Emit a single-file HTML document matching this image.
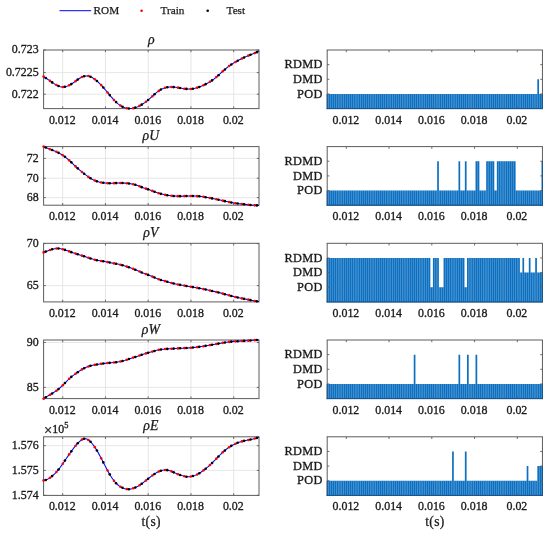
<!DOCTYPE html>
<html lang="en"><head><meta charset="utf-8"><title>ROM comparison</title>
<style>
html,body{margin:0;padding:0;background:#fff}
body{width:550px;height:534px;overflow:hidden}
svg{display:block;font-family:"Liberation Serif",serif;fill:#1a1a1a}
.tk{font-size:11.9px;stroke:#1a1a1a;stroke-width:0.32px}
.yl{font-size:12.3px;letter-spacing:0.3px}
.lg{font-size:11.2px;stroke:#1a1a1a;stroke-width:0.25px}
.tt{font-size:13.8px;font-style:italic;letter-spacing:0px;stroke:#1a1a1a;stroke-width:0.25px}
.xl{font-size:13.6px;letter-spacing:0.3px;stroke:#1a1a1a;stroke-width:0.25px}
</style></head><body>
<svg width="550" height="534" viewBox="0 0 550 534">
<rect width="550" height="534" fill="#fff"/>
<line x1="59.5" y1="10.7" x2="91.2" y2="10.7" stroke="#0000ff" stroke-width="1"/>
<text class="lg" x="93.6" y="14.3">ROM</text>
<circle cx="141.6" cy="10.8" r="1.3" fill="#ff0000"/>
<text class="lg" x="160.5" y="14.3">Train</text>
<circle cx="207.7" cy="10.8" r="1.3" fill="#000"/>
<text class="lg" x="226.6" y="14.3">Test</text>
<g>
<path d="M62.70 50.00V108.60M105.45 50.00V108.60M148.20 50.00V108.60M190.95 50.00V108.60M233.70 50.00V108.60M43.60 72.60H259.00M43.60 94.20H259.00" stroke="#e0e0e0" stroke-width="0.8" fill="none"/>
<rect x="43.60" y="50.00" width="215.40" height="58.60" fill="none" stroke="#5c5c5c" stroke-width="1"/>
<path d="M62.70 108.60v-2.2M62.70 50.00v2.2M105.45 108.60v-2.2M105.45 50.00v2.2M148.20 108.60v-2.2M148.20 50.00v2.2M190.95 108.60v-2.2M190.95 50.00v2.2M233.70 108.60v-2.2M233.70 50.00v2.2M43.60 50.00h2.2M259.00 50.00h-2.2M43.60 72.60h2.2M259.00 72.60h-2.2M43.60 94.20h2.2M259.00 94.20h-2.2" stroke="#5c5c5c" stroke-width="0.9" fill="none"/>
<path d="M43.60 76.60 L44.60 77.20 L45.60 77.85 L46.61 78.52 L47.61 79.21 L48.61 79.92 L49.61 80.64 L50.61 81.35 L51.61 82.05 L52.62 82.74 L53.62 83.41 L54.62 84.04 L55.62 84.63 L56.62 85.17 L57.63 85.66 L58.63 86.08 L59.63 86.44 L60.63 86.71 L61.63 86.90 L62.64 86.99 L63.64 86.98 L64.64 86.87 L65.64 86.67 L66.64 86.38 L67.64 86.01 L68.65 85.57 L69.65 85.07 L70.65 84.51 L71.65 83.89 L72.65 83.24 L73.66 82.54 L74.66 81.82 L75.66 81.09 L76.66 80.36 L77.66 79.65 L78.67 78.96 L79.67 78.31 L80.67 77.71 L81.67 77.18 L82.67 76.73 L83.67 76.37 L84.68 76.11 L85.68 75.95 L86.68 75.90 L87.68 75.96 L88.68 76.13 L89.69 76.41 L90.69 76.79 L91.69 77.26 L92.69 77.82 L93.69 78.46 L94.69 79.17 L95.70 79.95 L96.70 80.78 L97.70 81.67 L98.70 82.61 L99.70 83.59 L100.71 84.62 L101.71 85.69 L102.71 86.79 L103.71 87.92 L104.71 89.08 L105.72 90.26 L106.72 91.46 L107.72 92.67 L108.72 93.89 L109.72 95.09 L110.72 96.29 L111.73 97.46 L112.73 98.60 L113.73 99.70 L114.73 100.75 L115.73 101.75 L116.74 102.68 L117.74 103.54 L118.74 104.33 L119.74 105.06 L120.74 105.72 L121.75 106.31 L122.75 106.84 L123.75 107.30 L124.75 107.69 L125.75 108.01 L126.75 108.26 L127.76 108.44 L128.76 108.56 L129.76 108.60 L130.76 108.57 L131.76 108.48 L132.77 108.32 L133.77 108.11 L134.77 107.83 L135.77 107.50 L136.77 107.13 L137.77 106.70 L138.78 106.23 L139.78 105.73 L140.78 105.18 L141.78 104.59 L142.78 103.96 L143.79 103.30 L144.79 102.60 L145.79 101.86 L146.79 101.09 L147.79 100.29 L148.80 99.45 L149.80 98.58 L150.80 97.68 L151.80 96.76 L152.80 95.84 L153.80 94.92 L154.81 94.02 L155.81 93.16 L156.81 92.34 L157.81 91.58 L158.81 90.87 L159.82 90.21 L160.82 89.62 L161.82 89.09 L162.82 88.62 L163.82 88.22 L164.83 87.88 L165.83 87.60 L166.83 87.38 L167.83 87.21 L168.83 87.08 L169.83 87.01 L170.84 86.98 L171.84 86.99 L172.84 87.03 L173.84 87.11 L174.84 87.21 L175.85 87.33 L176.85 87.48 L177.85 87.64 L178.85 87.80 L179.85 87.97 L180.85 88.15 L181.86 88.32 L182.86 88.48 L183.86 88.63 L184.86 88.76 L185.86 88.87 L186.87 88.95 L187.87 89.01 L188.87 89.03 L189.87 89.01 L190.87 88.94 L191.88 88.84 L192.88 88.69 L193.88 88.51 L194.88 88.29 L195.88 88.03 L196.88 87.75 L197.89 87.44 L198.89 87.10 L199.89 86.73 L200.89 86.34 L201.89 85.93 L202.90 85.49 L203.90 85.03 L204.90 84.55 L205.90 84.05 L206.90 83.53 L207.91 82.98 L208.91 82.41 L209.91 81.81 L210.91 81.18 L211.91 80.52 L212.91 79.81 L213.92 79.06 L214.92 78.27 L215.92 77.45 L216.92 76.59 L217.92 75.70 L218.93 74.80 L219.93 73.89 L220.93 72.97 L221.93 72.06 L222.93 71.16 L223.93 70.27 L224.94 69.40 L225.94 68.55 L226.94 67.73 L227.94 66.93 L228.94 66.17 L229.95 65.44 L230.95 64.75 L231.95 64.09 L232.95 63.46 L233.95 62.86 L234.96 62.28 L235.96 61.71 L236.96 61.16 L237.96 60.62 L238.96 60.08 L239.96 59.55 L240.97 59.03 L241.97 58.51 L242.97 58.01 L243.97 57.53 L244.97 57.06 L245.98 56.61 L246.98 56.18 L247.98 55.77 L248.98 55.37 L249.98 54.98 L250.99 54.59 L251.99 54.20 L252.99 53.81 L253.99 53.40 L254.99 52.98 L255.99 52.54 L257.00 52.08 L258.00 51.58 L259.00 51.05" stroke="#0000ff" stroke-width="1.05" fill="none" stroke-linejoin="round"/>
<g fill="#ff0000"><circle cx="43.60" cy="76.60" r="1.3"/><circle cx="50.00" cy="80.91" r="1.3"/><circle cx="56.40" cy="85.05" r="1.3"/><circle cx="62.79" cy="87.00" r="1.3"/><circle cx="69.19" cy="85.31" r="1.3"/><circle cx="75.59" cy="81.14" r="1.3"/><circle cx="81.99" cy="77.03" r="1.3"/><circle cx="88.39" cy="76.07" r="1.3"/><circle cx="94.78" cy="79.24" r="1.3"/><circle cx="101.18" cy="85.12" r="1.3"/><circle cx="107.58" cy="92.50" r="1.3"/><circle cx="113.98" cy="99.96" r="1.3"/><circle cx="120.38" cy="105.49" r="1.3"/><circle cx="126.77" cy="108.26" r="1.3"/><circle cx="133.17" cy="108.24" r="1.3"/><circle cx="139.57" cy="105.83" r="1.3"/><circle cx="145.97" cy="101.73" r="1.3"/><circle cx="152.37" cy="96.24" r="1.3"/><circle cx="158.76" cy="90.90" r="1.3"/><circle cx="165.16" cy="87.78" r="1.3"/><circle cx="171.56" cy="86.98" r="1.3"/><circle cx="177.96" cy="87.65" r="1.3"/><circle cx="184.36" cy="88.69" r="1.3"/><circle cx="190.75" cy="88.95" r="1.3"/><circle cx="197.15" cy="87.67" r="1.3"/><circle cx="203.55" cy="85.19" r="1.3"/><circle cx="209.95" cy="81.79" r="1.3"/><circle cx="216.35" cy="77.08" r="1.3"/><circle cx="222.74" cy="71.33" r="1.3"/><circle cx="229.14" cy="66.02" r="1.3"/><circle cx="235.54" cy="61.95" r="1.3"/><circle cx="241.94" cy="58.53" r="1.3"/><circle cx="248.34" cy="55.63" r="1.3"/><circle cx="254.73" cy="53.09" r="1.3"/></g><g fill="#000"><circle cx="45.73" cy="77.93" r="1.3"/><circle cx="52.13" cy="82.41" r="1.3"/><circle cx="58.53" cy="86.04" r="1.3"/><circle cx="64.93" cy="86.82" r="1.3"/><circle cx="71.32" cy="84.10" r="1.3"/><circle cx="77.72" cy="79.60" r="1.3"/><circle cx="84.12" cy="76.24" r="1.3"/><circle cx="90.52" cy="76.72" r="1.3"/><circle cx="96.92" cy="80.97" r="1.3"/><circle cx="103.31" cy="87.47" r="1.3"/><circle cx="109.71" cy="95.08" r="1.3"/><circle cx="116.11" cy="102.10" r="1.3"/><circle cx="122.51" cy="106.72" r="1.3"/><circle cx="128.91" cy="108.57" r="1.3"/><circle cx="135.30" cy="107.66" r="1.3"/><circle cx="141.70" cy="104.64" r="1.3"/><circle cx="148.10" cy="100.03" r="1.3"/><circle cx="154.50" cy="94.30" r="1.3"/><circle cx="160.90" cy="89.57" r="1.3"/><circle cx="167.30" cy="87.29" r="1.3"/><circle cx="173.69" cy="87.09" r="1.3"/><circle cx="180.09" cy="88.02" r="1.3"/><circle cx="186.49" cy="88.92" r="1.3"/><circle cx="192.89" cy="88.69" r="1.3"/><circle cx="199.29" cy="86.96" r="1.3"/><circle cx="205.68" cy="84.16" r="1.3"/><circle cx="212.08" cy="80.40" r="1.3"/><circle cx="218.48" cy="75.21" r="1.3"/><circle cx="224.88" cy="69.45" r="1.3"/><circle cx="231.28" cy="64.53" r="1.3"/><circle cx="237.67" cy="60.78" r="1.3"/><circle cx="244.07" cy="57.48" r="1.3"/><circle cx="250.47" cy="54.79" r="1.3"/><circle cx="256.87" cy="52.14" r="1.3"/></g>
<text class="tk" text-anchor="middle" x="62.30" y="123.50">0.012</text>
<text class="tk" text-anchor="middle" x="105.05" y="123.50">0.014</text>
<text class="tk" text-anchor="middle" x="147.80" y="123.50">0.016</text>
<text class="tk" text-anchor="middle" x="190.55" y="123.50">0.018</text>
<text class="tk" text-anchor="middle" x="233.30" y="123.50">0.02</text>
<text class="tk" text-anchor="end" x="38.6" y="53.30">0.723</text>
<text class="tk" text-anchor="end" x="38.6" y="75.90">0.7225</text>
<text class="tk" text-anchor="end" x="38.6" y="97.50">0.722</text>
<text class="tt" text-anchor="middle" x="151.2" y="43.50">ρ</text>
</g>
<g>
<path d="M326.70 50.00H542.95M326.70 108.60H542.95" fill="none" stroke="#5c5c5c" stroke-width="1"/>
<path d="M327.95 109.00V93.95H328.58V109.00ZM330.08 109.00V93.95H330.71V109.00ZM332.21 109.00V93.95H332.84V109.00ZM334.35 109.00V93.95H334.97V109.00ZM336.48 109.00V93.95H337.10V109.00ZM338.61 109.00V93.95H339.23V109.00ZM340.74 109.00V93.95H341.37V109.00ZM342.87 109.00V93.95H343.50V109.00ZM345.00 109.00V93.95H345.63V109.00ZM347.13 109.00V93.95H347.76V109.00ZM349.26 109.00V93.95H349.89V109.00ZM351.40 109.00V93.95H352.02V109.00ZM353.53 109.00V93.95H354.15V109.00ZM355.66 109.00V93.95H356.28V109.00ZM357.79 109.00V93.95H358.42V109.00ZM359.92 109.00V93.95H360.55V109.00ZM362.05 109.00V93.95H362.68V109.00ZM364.18 109.00V93.95H364.81V109.00ZM366.31 109.00V93.95H366.94V109.00ZM368.45 109.00V93.95H369.07V109.00ZM370.58 109.00V93.95H371.20V109.00ZM372.71 109.00V93.95H373.33V109.00ZM374.84 109.00V93.95H375.46V109.00ZM376.97 109.00V93.95H377.60V109.00ZM379.10 109.00V93.95H379.73V109.00ZM381.23 109.00V93.95H381.86V109.00ZM383.36 109.00V93.95H383.99V109.00ZM385.49 109.00V93.95H386.12V109.00ZM387.63 109.00V93.95H388.25V109.00ZM389.76 109.00V93.95H390.38V109.00ZM391.89 109.00V93.95H392.51V109.00ZM394.02 109.00V93.95H394.65V109.00ZM396.15 109.00V93.95H396.78V109.00ZM398.28 109.00V93.95H398.91V109.00ZM400.41 109.00V93.95H401.04V109.00ZM402.54 109.00V93.95H403.17V109.00ZM404.68 109.00V93.95H405.30V109.00ZM406.81 109.00V93.95H407.43V109.00ZM408.94 109.00V93.95H409.56V109.00ZM411.07 109.00V93.95H411.70V109.00ZM413.20 109.00V93.95H413.83V109.00ZM415.33 109.00V93.95H415.96V109.00ZM417.46 109.00V93.95H418.09V109.00ZM419.59 109.00V93.95H420.22V109.00ZM421.72 109.00V93.95H422.35V109.00ZM423.86 109.00V93.95H424.48V109.00ZM425.99 109.00V93.95H426.61V109.00ZM428.12 109.00V93.95H428.74V109.00ZM430.25 109.00V93.95H430.88V109.00ZM432.38 109.00V93.95H433.01V109.00ZM434.51 109.00V93.95H435.14V109.00ZM436.64 109.00V93.95H437.27V109.00ZM438.77 109.00V93.95H439.40V109.00ZM440.91 109.00V93.95H441.53V109.00ZM443.04 109.00V93.95H443.66V109.00ZM445.17 109.00V93.95H445.79V109.00ZM447.30 109.00V93.95H447.93V109.00ZM449.43 109.00V93.95H450.06V109.00ZM451.56 109.00V93.95H452.19V109.00ZM453.69 109.00V93.95H454.32V109.00ZM455.82 109.00V93.95H456.45V109.00ZM457.95 109.00V93.95H458.58V109.00ZM460.09 109.00V93.95H460.71V109.00ZM462.22 109.00V93.95H462.84V109.00ZM464.35 109.00V93.95H464.97V109.00ZM466.48 109.00V93.95H467.11V109.00ZM468.61 109.00V93.95H469.24V109.00ZM470.74 109.00V93.95H471.37V109.00ZM472.87 109.00V93.95H473.50V109.00ZM475.00 109.00V93.95H475.63V109.00ZM477.14 109.00V93.95H477.76V109.00ZM479.27 109.00V93.95H479.89V109.00ZM481.40 109.00V93.95H482.02V109.00ZM483.53 109.00V93.95H484.16V109.00ZM485.66 109.00V93.95H486.29V109.00ZM487.79 109.00V93.95H488.42V109.00ZM489.92 109.00V93.95H490.55V109.00ZM492.05 109.00V93.95H492.68V109.00ZM494.19 109.00V93.95H494.81V109.00ZM496.32 109.00V93.95H496.94V109.00ZM498.45 109.00V93.95H499.07V109.00ZM500.58 109.00V93.95H501.20V109.00ZM502.71 109.00V93.95H503.34V109.00ZM504.84 109.00V93.95H505.47V109.00ZM506.97 109.00V93.95H507.60V109.00ZM509.10 109.00V93.95H509.73V109.00ZM511.23 109.00V93.95H511.86V109.00ZM513.37 109.00V93.95H513.99V109.00ZM515.50 109.00V93.95H516.12V109.00ZM517.63 109.00V93.95H518.25V109.00ZM519.76 109.00V93.95H520.39V109.00ZM521.89 109.00V93.95H522.52V109.00ZM524.02 109.00V93.95H524.65V109.00ZM526.15 109.00V93.95H526.78V109.00ZM528.28 109.00V93.95H528.91V109.00ZM530.42 109.00V93.95H531.04V109.00ZM532.55 109.00V93.95H533.17V109.00ZM534.68 109.00V93.95H535.30V109.00ZM536.81 109.00V93.95H537.44V109.00ZM538.94 109.00V93.95H539.57V109.00ZM541.07 109.00V93.95H541.70V109.00Z" fill="#3087cf"/>
<path d="M327.20 109.00V93.95H328.05V109.00ZM328.48 109.00V93.95H330.18V109.00ZM330.61 109.00V93.95H332.31V109.00ZM332.74 109.00V93.95H334.45V109.00ZM334.87 109.00V93.95H336.58V109.00ZM337.00 109.00V93.95H338.71V109.00ZM339.13 109.00V93.95H340.84V109.00ZM341.27 109.00V93.95H342.97V109.00ZM343.40 109.00V93.95H345.10V109.00ZM345.53 109.00V93.95H347.23V109.00ZM347.66 109.00V93.95H349.36V109.00ZM349.79 109.00V93.95H351.50V109.00ZM351.92 109.00V93.95H353.63V109.00ZM354.05 109.00V93.95H355.76V109.00ZM356.18 109.00V93.95H357.89V109.00ZM358.32 109.00V93.95H360.02V109.00ZM360.45 109.00V93.95H362.15V109.00ZM362.58 109.00V93.95H364.28V109.00ZM364.71 109.00V93.95H366.41V109.00ZM366.84 109.00V93.95H368.55V109.00ZM368.97 109.00V93.95H370.68V109.00ZM371.10 109.00V93.95H372.81V109.00ZM373.23 109.00V93.95H374.94V109.00ZM375.36 109.00V93.95H377.07V109.00ZM377.50 109.00V93.95H379.20V109.00ZM379.63 109.00V93.95H381.33V109.00ZM381.76 109.00V93.95H383.46V109.00ZM383.89 109.00V93.95H385.59V109.00ZM386.02 109.00V93.95H387.73V109.00ZM388.15 109.00V93.95H389.86V109.00ZM390.28 109.00V93.95H391.99V109.00ZM392.41 109.00V93.95H394.12V109.00ZM394.55 109.00V93.95H396.25V109.00ZM396.68 109.00V93.95H398.38V109.00ZM398.81 109.00V93.95H400.51V109.00ZM400.94 109.00V93.95H402.64V109.00ZM403.07 109.00V93.95H404.78V109.00ZM405.20 109.00V93.95H406.91V109.00ZM407.33 109.00V93.95H409.04V109.00ZM409.46 109.00V93.95H411.17V109.00ZM411.60 109.00V93.95H413.30V109.00ZM413.73 109.00V93.95H415.43V109.00ZM415.86 109.00V93.95H417.56V109.00ZM417.99 109.00V93.95H419.69V109.00ZM420.12 109.00V93.95H421.82V109.00ZM422.25 109.00V93.95H423.96V109.00ZM424.38 109.00V93.95H426.09V109.00ZM426.51 109.00V93.95H428.22V109.00ZM428.64 109.00V93.95H430.35V109.00ZM430.78 109.00V93.95H432.48V109.00ZM432.91 109.00V93.95H434.61V109.00ZM435.04 109.00V93.95H436.74V109.00ZM437.17 109.00V93.95H438.87V109.00ZM439.30 109.00V93.95H441.01V109.00ZM441.43 109.00V93.95H443.14V109.00ZM443.56 109.00V93.95H445.27V109.00ZM445.69 109.00V93.95H447.40V109.00ZM447.83 109.00V93.95H449.53V109.00ZM449.96 109.00V93.95H451.66V109.00ZM452.09 109.00V93.95H453.79V109.00ZM454.22 109.00V93.95H455.92V109.00ZM456.35 109.00V93.95H458.05V109.00ZM458.48 109.00V93.95H460.19V109.00ZM460.61 109.00V93.95H462.32V109.00ZM462.74 109.00V93.95H464.45V109.00ZM464.87 109.00V93.95H466.58V109.00ZM467.01 109.00V93.95H468.71V109.00ZM469.14 109.00V93.95H470.84V109.00ZM471.27 109.00V93.95H472.97V109.00ZM473.40 109.00V93.95H475.10V109.00ZM475.53 109.00V93.95H477.24V109.00ZM477.66 109.00V93.95H479.37V109.00ZM479.79 109.00V93.95H481.50V109.00ZM481.92 109.00V93.95H483.63V109.00ZM484.06 109.00V93.95H485.76V109.00ZM486.19 109.00V93.95H487.89V109.00ZM488.32 109.00V93.95H490.02V109.00ZM490.45 109.00V93.95H492.15V109.00ZM492.58 109.00V93.95H494.29V109.00ZM494.71 109.00V93.95H496.42V109.00ZM496.84 109.00V93.95H498.55V109.00ZM498.97 109.00V93.95H500.68V109.00ZM501.10 109.00V93.95H502.81V109.00ZM503.24 109.00V93.95H504.94V109.00ZM505.37 109.00V93.95H507.07V109.00ZM507.50 109.00V93.95H509.20V109.00ZM509.63 109.00V93.95H511.33V109.00ZM511.76 109.00V93.95H513.47V109.00ZM513.89 109.00V93.95H515.60V109.00ZM516.02 109.00V93.95H517.73V109.00ZM518.15 109.00V93.95H519.86V109.00ZM520.29 109.00V93.95H521.99V109.00ZM522.42 109.00V93.95H524.12V109.00ZM524.55 109.00V93.95H526.25V109.00ZM526.68 109.00V93.95H528.38V109.00ZM528.81 109.00V93.95H530.52V109.00ZM530.94 109.00V93.95H532.65V109.00ZM533.07 109.00V93.95H534.78V109.00ZM535.20 109.00V93.95H536.91V109.00ZM537.34 109.00V79.30H539.04V109.00ZM539.47 109.00V93.95H541.17V109.00ZM541.60 109.00V93.95H542.45V109.00Z" fill="#0c6fc0"/>
<path d="M327.20 50.00V108.60M542.45 50.00V108.60" stroke="#5c5c5c" stroke-width="1" fill="none"/>
<path d="M327.20 93.95V109.10M542.45 93.95V109.10M326.70 108.60H542.95" stroke="#17548f" stroke-width="1" fill="none"/>
<path d="M346.30 108.60v-2.2M346.30 50.00v2.2M389.05 108.60v-2.2M389.05 50.00v2.2M431.80 108.60v-2.2M431.80 50.00v2.2M474.55 108.60v-2.2M474.55 50.00v2.2M517.30 108.60v-2.2M517.30 50.00v2.2M327.20 93.95h2.2M542.45 93.95h-2.2M327.20 79.30h2.2M542.45 79.30h-2.2M327.20 64.65h2.2M542.45 64.65h-2.2" stroke="#5c5c5c" stroke-width="0.9" fill="none"/>
<text class="tk" text-anchor="middle" x="345.90" y="123.50">0.012</text>
<text class="tk" text-anchor="middle" x="388.65" y="123.50">0.014</text>
<text class="tk" text-anchor="middle" x="431.40" y="123.50">0.016</text>
<text class="tk" text-anchor="middle" x="474.15" y="123.50">0.018</text>
<text class="tk" text-anchor="middle" x="516.90" y="123.50">0.02</text>
<text class="tk yl" text-anchor="end" x="322.6" y="97.65">POD</text>
<text class="tk yl" text-anchor="end" x="322.6" y="83.00">DMD</text>
<text class="tk yl" text-anchor="end" x="322.6" y="68.35">RDMD</text>
</g>
<g>
<path d="M62.70 146.60V205.20M105.45 146.60V205.20M148.20 146.60V205.20M190.95 146.60V205.20M233.70 146.60V205.20M43.60 158.40H259.00M43.60 178.20H259.00M43.60 197.60H259.00" stroke="#e0e0e0" stroke-width="0.8" fill="none"/>
<rect x="43.60" y="146.60" width="215.40" height="58.60" fill="none" stroke="#5c5c5c" stroke-width="1"/>
<path d="M62.70 205.20v-2.2M62.70 146.60v2.2M105.45 205.20v-2.2M105.45 146.60v2.2M148.20 205.20v-2.2M148.20 146.60v2.2M190.95 205.20v-2.2M190.95 146.60v2.2M233.70 205.20v-2.2M233.70 146.60v2.2M43.60 158.40h2.2M259.00 158.40h-2.2M43.60 178.20h2.2M259.00 178.20h-2.2M43.60 197.60h2.2M259.00 197.60h-2.2" stroke="#5c5c5c" stroke-width="0.9" fill="none"/>
<path d="M43.60 146.60 L44.60 147.05 L45.60 147.48 L46.61 147.90 L47.61 148.30 L48.61 148.69 L49.61 149.08 L50.61 149.47 L51.61 149.85 L52.62 150.24 L53.62 150.64 L54.62 151.05 L55.62 151.47 L56.62 151.92 L57.63 152.38 L58.63 152.88 L59.63 153.40 L60.63 153.95 L61.63 154.54 L62.64 155.17 L63.64 155.84 L64.64 156.56 L65.64 157.32 L66.64 158.12 L67.64 158.98 L68.65 159.86 L69.65 160.78 L70.65 161.72 L71.65 162.67 L72.65 163.62 L73.66 164.58 L74.66 165.53 L75.66 166.47 L76.66 167.39 L77.66 168.30 L78.67 169.19 L79.67 170.05 L80.67 170.89 L81.67 171.72 L82.67 172.54 L83.67 173.34 L84.68 174.14 L85.68 174.92 L86.68 175.68 L87.68 176.42 L88.68 177.13 L89.69 177.80 L90.69 178.42 L91.69 179.00 L92.69 179.54 L93.69 180.03 L94.69 180.48 L95.70 180.88 L96.70 181.25 L97.70 181.58 L98.70 181.87 L99.70 182.13 L100.71 182.35 L101.71 182.55 L102.71 182.72 L103.71 182.86 L104.71 182.97 L105.72 183.07 L106.72 183.14 L107.72 183.19 L108.72 183.22 L109.72 183.23 L110.72 183.23 L111.73 183.22 L112.73 183.20 L113.73 183.17 L114.73 183.14 L115.73 183.10 L116.74 183.07 L117.74 183.04 L118.74 183.02 L119.74 183.00 L120.74 183.00 L121.75 183.01 L122.75 183.03 L123.75 183.07 L124.75 183.13 L125.75 183.19 L126.75 183.28 L127.76 183.37 L128.76 183.49 L129.76 183.62 L130.76 183.77 L131.76 183.95 L132.77 184.15 L133.77 184.38 L134.77 184.64 L135.77 184.93 L136.77 185.25 L137.77 185.60 L138.78 185.98 L139.78 186.37 L140.78 186.76 L141.78 187.16 L142.78 187.55 L143.79 187.92 L144.79 188.28 L145.79 188.61 L146.79 188.94 L147.79 189.26 L148.80 189.59 L149.80 189.93 L150.80 190.29 L151.80 190.66 L152.80 191.05 L153.80 191.44 L154.81 191.83 L155.81 192.21 L156.81 192.58 L157.81 192.94 L158.81 193.26 L159.82 193.57 L160.82 193.85 L161.82 194.11 L162.82 194.35 L163.82 194.57 L164.83 194.78 L165.83 194.97 L166.83 195.15 L167.83 195.31 L168.83 195.46 L169.83 195.59 L170.84 195.71 L171.84 195.82 L172.84 195.91 L173.84 195.99 L174.84 196.05 L175.85 196.10 L176.85 196.13 L177.85 196.15 L178.85 196.16 L179.85 196.17 L180.85 196.16 L181.86 196.15 L182.86 196.14 L183.86 196.12 L184.86 196.09 L185.86 196.07 L186.87 196.05 L187.87 196.03 L188.87 196.01 L189.87 196.00 L190.87 195.99 L191.88 196.00 L192.88 196.00 L193.88 196.02 L194.88 196.05 L195.88 196.09 L196.88 196.14 L197.89 196.20 L198.89 196.27 L199.89 196.36 L200.89 196.47 L201.89 196.59 L202.90 196.72 L203.90 196.88 L204.90 197.04 L205.90 197.22 L206.90 197.40 L207.91 197.59 L208.91 197.79 L209.91 197.98 L210.91 198.18 L211.91 198.37 L212.91 198.57 L213.92 198.77 L214.92 198.96 L215.92 199.17 L216.92 199.37 L217.92 199.58 L218.93 199.80 L219.93 200.02 L220.93 200.24 L221.93 200.47 L222.93 200.70 L223.93 200.93 L224.94 201.16 L225.94 201.39 L226.94 201.61 L227.94 201.83 L228.94 202.05 L229.95 202.26 L230.95 202.46 L231.95 202.65 L232.95 202.83 L233.95 202.99 L234.96 203.14 L235.96 203.28 L236.96 203.41 L237.96 203.53 L238.96 203.65 L239.96 203.76 L240.97 203.88 L241.97 204.00 L242.97 204.12 L243.97 204.25 L244.97 204.38 L245.98 204.51 L246.98 204.64 L247.98 204.77 L248.98 204.89 L249.98 205.00 L250.99 205.10 L251.99 205.19 L252.99 205.26 L253.99 205.32 L254.99 205.37 L255.99 205.39 L257.00 205.38 L258.00 205.36 L259.00 205.31" stroke="#0000ff" stroke-width="1.05" fill="none" stroke-linejoin="round"/>
<g fill="#ff0000"><circle cx="43.60" cy="146.60" r="1.3"/><circle cx="50.00" cy="149.23" r="1.3"/><circle cx="56.40" cy="151.82" r="1.3"/><circle cx="62.79" cy="155.28" r="1.3"/><circle cx="69.19" cy="160.36" r="1.3"/><circle cx="75.59" cy="166.40" r="1.3"/><circle cx="81.99" cy="171.98" r="1.3"/><circle cx="88.39" cy="176.92" r="1.3"/><circle cx="94.78" cy="180.52" r="1.3"/><circle cx="101.18" cy="182.45" r="1.3"/><circle cx="107.58" cy="183.18" r="1.3"/><circle cx="113.98" cy="183.16" r="1.3"/><circle cx="120.38" cy="183.00" r="1.3"/><circle cx="126.77" cy="183.28" r="1.3"/><circle cx="133.17" cy="184.24" r="1.3"/><circle cx="139.57" cy="186.29" r="1.3"/><circle cx="145.97" cy="188.67" r="1.3"/><circle cx="152.37" cy="190.88" r="1.3"/><circle cx="158.76" cy="193.25" r="1.3"/><circle cx="165.16" cy="194.84" r="1.3"/><circle cx="171.56" cy="195.79" r="1.3"/><circle cx="177.96" cy="196.15" r="1.3"/><circle cx="184.36" cy="196.11" r="1.3"/><circle cx="190.75" cy="196.00" r="1.3"/><circle cx="197.15" cy="196.15" r="1.3"/><circle cx="203.55" cy="196.82" r="1.3"/><circle cx="209.95" cy="197.99" r="1.3"/><circle cx="216.35" cy="199.25" r="1.3"/><circle cx="222.74" cy="200.66" r="1.3"/><circle cx="229.14" cy="202.09" r="1.3"/><circle cx="235.54" cy="203.23" r="1.3"/><circle cx="241.94" cy="203.99" r="1.3"/><circle cx="248.34" cy="204.81" r="1.3"/><circle cx="254.73" cy="205.36" r="1.3"/></g><g fill="#000"><circle cx="45.73" cy="147.54" r="1.3"/><circle cx="52.13" cy="150.05" r="1.3"/><circle cx="58.53" cy="152.83" r="1.3"/><circle cx="64.93" cy="156.77" r="1.3"/><circle cx="71.32" cy="162.36" r="1.3"/><circle cx="77.72" cy="168.35" r="1.3"/><circle cx="84.12" cy="173.70" r="1.3"/><circle cx="90.52" cy="178.32" r="1.3"/><circle cx="96.92" cy="181.33" r="1.3"/><circle cx="103.31" cy="182.80" r="1.3"/><circle cx="109.71" cy="183.23" r="1.3"/><circle cx="116.11" cy="183.09" r="1.3"/><circle cx="122.51" cy="183.03" r="1.3"/><circle cx="128.91" cy="183.51" r="1.3"/><circle cx="135.30" cy="184.79" r="1.3"/><circle cx="141.70" cy="187.13" r="1.3"/><circle cx="148.10" cy="189.36" r="1.3"/><circle cx="154.50" cy="191.71" r="1.3"/><circle cx="160.90" cy="193.87" r="1.3"/><circle cx="167.30" cy="195.22" r="1.3"/><circle cx="173.69" cy="195.98" r="1.3"/><circle cx="180.09" cy="196.17" r="1.3"/><circle cx="186.49" cy="196.06" r="1.3"/><circle cx="192.89" cy="196.00" r="1.3"/><circle cx="199.29" cy="196.31" r="1.3"/><circle cx="205.68" cy="197.18" r="1.3"/><circle cx="212.08" cy="198.41" r="1.3"/><circle cx="218.48" cy="199.70" r="1.3"/><circle cx="224.88" cy="201.14" r="1.3"/><circle cx="231.28" cy="202.52" r="1.3"/><circle cx="237.67" cy="203.50" r="1.3"/><circle cx="244.07" cy="204.26" r="1.3"/><circle cx="250.47" cy="205.05" r="1.3"/><circle cx="256.87" cy="205.39" r="1.3"/></g>
<text class="tk" text-anchor="middle" x="62.30" y="220.10">0.012</text>
<text class="tk" text-anchor="middle" x="105.05" y="220.10">0.014</text>
<text class="tk" text-anchor="middle" x="147.80" y="220.10">0.016</text>
<text class="tk" text-anchor="middle" x="190.55" y="220.10">0.018</text>
<text class="tk" text-anchor="middle" x="233.30" y="220.10">0.02</text>
<text class="tk" text-anchor="end" x="38.6" y="161.70">72</text>
<text class="tk" text-anchor="end" x="38.6" y="181.50">70</text>
<text class="tk" text-anchor="end" x="38.6" y="200.90">68</text>
<text class="tt" text-anchor="middle" x="150.9" y="140.10">ρU</text>
</g>
<g>
<path d="M326.70 146.60H542.95M326.70 205.20H542.95" fill="none" stroke="#5c5c5c" stroke-width="1"/>
<path d="M327.95 205.60V190.55H328.58V205.60ZM330.08 205.60V190.55H330.71V205.60ZM332.21 205.60V190.55H332.84V205.60ZM334.35 205.60V190.55H334.97V205.60ZM336.48 205.60V190.55H337.10V205.60ZM338.61 205.60V190.55H339.23V205.60ZM340.74 205.60V190.55H341.37V205.60ZM342.87 205.60V190.55H343.50V205.60ZM345.00 205.60V190.55H345.63V205.60ZM347.13 205.60V190.55H347.76V205.60ZM349.26 205.60V190.55H349.89V205.60ZM351.40 205.60V190.55H352.02V205.60ZM353.53 205.60V190.55H354.15V205.60ZM355.66 205.60V190.55H356.28V205.60ZM357.79 205.60V190.55H358.42V205.60ZM359.92 205.60V190.55H360.55V205.60ZM362.05 205.60V190.55H362.68V205.60ZM364.18 205.60V190.55H364.81V205.60ZM366.31 205.60V190.55H366.94V205.60ZM368.45 205.60V190.55H369.07V205.60ZM370.58 205.60V190.55H371.20V205.60ZM372.71 205.60V190.55H373.33V205.60ZM374.84 205.60V190.55H375.46V205.60ZM376.97 205.60V190.55H377.60V205.60ZM379.10 205.60V190.55H379.73V205.60ZM381.23 205.60V190.55H381.86V205.60ZM383.36 205.60V190.55H383.99V205.60ZM385.49 205.60V190.55H386.12V205.60ZM387.63 205.60V190.55H388.25V205.60ZM389.76 205.60V190.55H390.38V205.60ZM391.89 205.60V190.55H392.51V205.60ZM394.02 205.60V190.55H394.65V205.60ZM396.15 205.60V190.55H396.78V205.60ZM398.28 205.60V190.55H398.91V205.60ZM400.41 205.60V190.55H401.04V205.60ZM402.54 205.60V190.55H403.17V205.60ZM404.68 205.60V190.55H405.30V205.60ZM406.81 205.60V190.55H407.43V205.60ZM408.94 205.60V190.55H409.56V205.60ZM411.07 205.60V190.55H411.70V205.60ZM413.20 205.60V190.55H413.83V205.60ZM415.33 205.60V190.55H415.96V205.60ZM417.46 205.60V190.55H418.09V205.60ZM419.59 205.60V190.55H420.22V205.60ZM421.72 205.60V190.55H422.35V205.60ZM423.86 205.60V190.55H424.48V205.60ZM425.99 205.60V190.55H426.61V205.60ZM428.12 205.60V190.55H428.74V205.60ZM430.25 205.60V190.55H430.88V205.60ZM432.38 205.60V190.55H433.01V205.60ZM434.51 205.60V190.55H435.14V205.60ZM436.64 205.60V190.55H437.27V205.60ZM438.77 205.60V190.55H439.40V205.60ZM440.91 205.60V190.55H441.53V205.60ZM443.04 205.60V190.55H443.66V205.60ZM445.17 205.60V190.55H445.79V205.60ZM447.30 205.60V190.55H447.93V205.60ZM449.43 205.60V190.55H450.06V205.60ZM451.56 205.60V190.55H452.19V205.60ZM453.69 205.60V190.55H454.32V205.60ZM455.82 205.60V190.55H456.45V205.60ZM457.95 205.60V190.55H458.58V205.60ZM460.09 205.60V190.55H460.71V205.60ZM462.22 205.60V190.55H462.84V205.60ZM464.35 205.60V190.55H464.97V205.60ZM466.48 205.60V190.55H467.11V205.60ZM468.61 205.60V190.55H469.24V205.60ZM470.74 205.60V190.55H471.37V205.60ZM472.87 205.60V190.55H473.50V205.60ZM475.00 205.60V190.55H475.63V205.60ZM477.14 205.60V161.25H477.76V205.60ZM479.27 205.60V190.55H479.89V205.60ZM481.40 205.60V190.55H482.02V205.60ZM483.53 205.60V190.55H484.16V205.60ZM485.66 205.60V190.55H486.29V205.60ZM487.79 205.60V161.25H488.42V205.60ZM489.92 205.60V161.25H490.55V205.60ZM492.05 205.60V161.25H492.68V205.60ZM494.19 205.60V190.55H494.81V205.60ZM496.32 205.60V190.55H496.94V205.60ZM498.45 205.60V161.25H499.07V205.60ZM500.58 205.60V161.25H501.20V205.60ZM502.71 205.60V161.25H503.34V205.60ZM504.84 205.60V161.25H505.47V205.60ZM506.97 205.60V161.25H507.60V205.60ZM509.10 205.60V161.25H509.73V205.60ZM511.23 205.60V161.25H511.86V205.60ZM513.37 205.60V161.25H513.99V205.60ZM515.50 205.60V190.55H516.12V205.60ZM517.63 205.60V190.55H518.25V205.60ZM519.76 205.60V190.55H520.39V205.60ZM521.89 205.60V190.55H522.52V205.60ZM524.02 205.60V190.55H524.65V205.60ZM526.15 205.60V190.55H526.78V205.60ZM528.28 205.60V190.55H528.91V205.60ZM530.42 205.60V190.55H531.04V205.60ZM532.55 205.60V190.55H533.17V205.60ZM534.68 205.60V190.55H535.30V205.60ZM536.81 205.60V190.55H537.44V205.60ZM538.94 205.60V190.55H539.57V205.60ZM541.07 205.60V190.55H541.70V205.60Z" fill="#3087cf"/>
<path d="M327.20 205.60V190.55H328.05V205.60ZM328.48 205.60V190.55H330.18V205.60ZM330.61 205.60V190.55H332.31V205.60ZM332.74 205.60V190.55H334.45V205.60ZM334.87 205.60V190.55H336.58V205.60ZM337.00 205.60V190.55H338.71V205.60ZM339.13 205.60V190.55H340.84V205.60ZM341.27 205.60V190.55H342.97V205.60ZM343.40 205.60V190.55H345.10V205.60ZM345.53 205.60V190.55H347.23V205.60ZM347.66 205.60V190.55H349.36V205.60ZM349.79 205.60V190.55H351.50V205.60ZM351.92 205.60V190.55H353.63V205.60ZM354.05 205.60V190.55H355.76V205.60ZM356.18 205.60V190.55H357.89V205.60ZM358.32 205.60V190.55H360.02V205.60ZM360.45 205.60V190.55H362.15V205.60ZM362.58 205.60V190.55H364.28V205.60ZM364.71 205.60V190.55H366.41V205.60ZM366.84 205.60V190.55H368.55V205.60ZM368.97 205.60V190.55H370.68V205.60ZM371.10 205.60V190.55H372.81V205.60ZM373.23 205.60V190.55H374.94V205.60ZM375.36 205.60V190.55H377.07V205.60ZM377.50 205.60V190.55H379.20V205.60ZM379.63 205.60V190.55H381.33V205.60ZM381.76 205.60V190.55H383.46V205.60ZM383.89 205.60V190.55H385.59V205.60ZM386.02 205.60V190.55H387.73V205.60ZM388.15 205.60V190.55H389.86V205.60ZM390.28 205.60V190.55H391.99V205.60ZM392.41 205.60V190.55H394.12V205.60ZM394.55 205.60V190.55H396.25V205.60ZM396.68 205.60V190.55H398.38V205.60ZM398.81 205.60V190.55H400.51V205.60ZM400.94 205.60V190.55H402.64V205.60ZM403.07 205.60V190.55H404.78V205.60ZM405.20 205.60V190.55H406.91V205.60ZM407.33 205.60V190.55H409.04V205.60ZM409.46 205.60V190.55H411.17V205.60ZM411.60 205.60V190.55H413.30V205.60ZM413.73 205.60V190.55H415.43V205.60ZM415.86 205.60V190.55H417.56V205.60ZM417.99 205.60V190.55H419.69V205.60ZM420.12 205.60V190.55H421.82V205.60ZM422.25 205.60V190.55H423.96V205.60ZM424.38 205.60V190.55H426.09V205.60ZM426.51 205.60V190.55H428.22V205.60ZM428.64 205.60V190.55H430.35V205.60ZM430.78 205.60V190.55H432.48V205.60ZM432.91 205.60V190.55H434.61V205.60ZM435.04 205.60V190.55H436.74V205.60ZM437.17 205.60V161.25H438.87V205.60ZM439.30 205.60V190.55H441.01V205.60ZM441.43 205.60V190.55H443.14V205.60ZM443.56 205.60V190.55H445.27V205.60ZM445.69 205.60V190.55H447.40V205.60ZM447.83 205.60V190.55H449.53V205.60ZM449.96 205.60V190.55H451.66V205.60ZM452.09 205.60V190.55H453.79V205.60ZM454.22 205.60V190.55H455.92V205.60ZM456.35 205.60V190.55H458.05V205.60ZM458.48 205.60V161.25H460.19V205.60ZM460.61 205.60V190.55H462.32V205.60ZM462.74 205.60V190.55H464.45V205.60ZM464.87 205.60V161.25H466.58V205.60ZM467.01 205.60V190.55H468.71V205.60ZM469.14 205.60V190.55H470.84V205.60ZM471.27 205.60V190.55H472.97V205.60ZM473.40 205.60V190.55H475.10V205.60ZM475.53 205.60V161.25H477.24V205.60ZM477.66 205.60V161.25H479.37V205.60ZM479.79 205.60V190.55H481.50V205.60ZM481.92 205.60V190.55H483.63V205.60ZM484.06 205.60V190.55H485.76V205.60ZM486.19 205.60V161.25H487.89V205.60ZM488.32 205.60V161.25H490.02V205.60ZM490.45 205.60V161.25H492.15V205.60ZM492.58 205.60V161.25H494.29V205.60ZM494.71 205.60V190.55H496.42V205.60ZM496.84 205.60V161.25H498.55V205.60ZM498.97 205.60V161.25H500.68V205.60ZM501.10 205.60V161.25H502.81V205.60ZM503.24 205.60V161.25H504.94V205.60ZM505.37 205.60V161.25H507.07V205.60ZM507.50 205.60V161.25H509.20V205.60ZM509.63 205.60V161.25H511.33V205.60ZM511.76 205.60V161.25H513.47V205.60ZM513.89 205.60V161.25H515.60V205.60ZM516.02 205.60V190.55H517.73V205.60ZM518.15 205.60V190.55H519.86V205.60ZM520.29 205.60V190.55H521.99V205.60ZM522.42 205.60V190.55H524.12V205.60ZM524.55 205.60V190.55H526.25V205.60ZM526.68 205.60V190.55H528.38V205.60ZM528.81 205.60V190.55H530.52V205.60ZM530.94 205.60V190.55H532.65V205.60ZM533.07 205.60V190.55H534.78V205.60ZM535.20 205.60V190.55H536.91V205.60ZM537.34 205.60V190.55H539.04V205.60ZM539.47 205.60V190.55H541.17V205.60ZM541.60 205.60V161.25H542.45V205.60Z" fill="#0c6fc0"/>
<path d="M327.20 146.60V205.20M542.45 146.60V205.20" stroke="#5c5c5c" stroke-width="1" fill="none"/>
<path d="M327.20 190.55V205.70M542.45 161.25V205.70M326.70 205.20H542.95" stroke="#17548f" stroke-width="1" fill="none"/>
<path d="M346.30 205.20v-2.2M346.30 146.60v2.2M389.05 205.20v-2.2M389.05 146.60v2.2M431.80 205.20v-2.2M431.80 146.60v2.2M474.55 205.20v-2.2M474.55 146.60v2.2M517.30 205.20v-2.2M517.30 146.60v2.2M327.20 190.55h2.2M542.45 190.55h-2.2M327.20 175.90h2.2M542.45 175.90h-2.2M327.20 161.25h2.2M542.45 161.25h-2.2" stroke="#5c5c5c" stroke-width="0.9" fill="none"/>
<text class="tk" text-anchor="middle" x="345.90" y="220.10">0.012</text>
<text class="tk" text-anchor="middle" x="388.65" y="220.10">0.014</text>
<text class="tk" text-anchor="middle" x="431.40" y="220.10">0.016</text>
<text class="tk" text-anchor="middle" x="474.15" y="220.10">0.018</text>
<text class="tk" text-anchor="middle" x="516.90" y="220.10">0.02</text>
<text class="tk yl" text-anchor="end" x="322.6" y="194.25">POD</text>
<text class="tk yl" text-anchor="end" x="322.6" y="179.60">DMD</text>
<text class="tk yl" text-anchor="end" x="322.6" y="164.95">RDMD</text>
</g>
<g>
<path d="M62.70 243.30V301.90M105.45 243.30V301.90M148.20 243.30V301.90M190.95 243.30V301.90M233.70 243.30V301.90M43.60 285.60H259.00" stroke="#e0e0e0" stroke-width="0.8" fill="none"/>
<rect x="43.60" y="243.30" width="215.40" height="58.60" fill="none" stroke="#5c5c5c" stroke-width="1"/>
<path d="M62.70 301.90v-2.2M62.70 243.30v2.2M105.45 301.90v-2.2M105.45 243.30v2.2M148.20 301.90v-2.2M148.20 243.30v2.2M190.95 301.90v-2.2M190.95 243.30v2.2M233.70 301.90v-2.2M233.70 243.30v2.2M43.60 243.60h2.2M259.00 243.60h-2.2M43.60 285.60h2.2M259.00 285.60h-2.2" stroke="#5c5c5c" stroke-width="0.9" fill="none"/>
<path d="M43.60 252.40 L44.60 252.04 L45.60 251.67 L46.61 251.28 L47.61 250.90 L48.61 250.51 L49.61 250.14 L50.61 249.79 L51.61 249.46 L52.62 249.16 L53.62 248.90 L54.62 248.69 L55.62 248.53 L56.62 248.43 L57.63 248.39 L58.63 248.43 L59.63 248.54 L60.63 248.71 L61.63 248.93 L62.64 249.19 L63.64 249.49 L64.64 249.80 L65.64 250.14 L66.64 250.48 L67.64 250.84 L68.65 251.20 L69.65 251.56 L70.65 251.92 L71.65 252.28 L72.65 252.63 L73.66 252.96 L74.66 253.30 L75.66 253.62 L76.66 253.94 L77.66 254.26 L78.67 254.58 L79.67 254.89 L80.67 255.21 L81.67 255.53 L82.67 255.86 L83.67 256.18 L84.68 256.51 L85.68 256.83 L86.68 257.16 L87.68 257.49 L88.68 257.83 L89.69 258.16 L90.69 258.49 L91.69 258.81 L92.69 259.11 L93.69 259.41 L94.69 259.68 L95.70 259.93 L96.70 260.15 L97.70 260.36 L98.70 260.54 L99.70 260.71 L100.71 260.87 L101.71 261.02 L102.71 261.18 L103.71 261.35 L104.71 261.53 L105.72 261.72 L106.72 261.92 L107.72 262.12 L108.72 262.33 L109.72 262.54 L110.72 262.74 L111.73 262.95 L112.73 263.14 L113.73 263.33 L114.73 263.52 L115.73 263.70 L116.74 263.90 L117.74 264.10 L118.74 264.31 L119.74 264.54 L120.74 264.78 L121.75 265.05 L122.75 265.33 L123.75 265.62 L124.75 265.93 L125.75 266.25 L126.75 266.58 L127.76 266.92 L128.76 267.26 L129.76 267.61 L130.76 267.97 L131.76 268.34 L132.77 268.71 L133.77 269.10 L134.77 269.49 L135.77 269.90 L136.77 270.33 L137.77 270.76 L138.78 271.20 L139.78 271.64 L140.78 272.07 L141.78 272.50 L142.78 272.92 L143.79 273.32 L144.79 273.70 L145.79 274.06 L146.79 274.42 L147.79 274.77 L148.80 275.14 L149.80 275.52 L150.80 275.93 L151.80 276.35 L152.80 276.79 L153.80 277.24 L154.81 277.68 L155.81 278.11 L156.81 278.53 L157.81 278.93 L158.81 279.30 L159.82 279.63 L160.82 279.95 L161.82 280.25 L162.82 280.53 L163.82 280.81 L164.83 281.08 L165.83 281.35 L166.83 281.63 L167.83 281.92 L168.83 282.20 L169.83 282.49 L170.84 282.77 L171.84 283.04 L172.84 283.31 L173.84 283.56 L174.84 283.80 L175.85 284.02 L176.85 284.23 L177.85 284.44 L178.85 284.63 L179.85 284.81 L180.85 285.00 L181.86 285.17 L182.86 285.35 L183.86 285.53 L184.86 285.71 L185.86 285.88 L186.87 286.06 L187.87 286.23 L188.87 286.41 L189.87 286.58 L190.87 286.75 L191.88 286.92 L192.88 287.09 L193.88 287.27 L194.88 287.44 L195.88 287.62 L196.88 287.80 L197.89 287.98 L198.89 288.17 L199.89 288.36 L200.89 288.55 L201.89 288.75 L202.90 288.95 L203.90 289.16 L204.90 289.37 L205.90 289.58 L206.90 289.79 L207.91 290.01 L208.91 290.23 L209.91 290.46 L210.91 290.68 L211.91 290.91 L212.91 291.15 L213.92 291.38 L214.92 291.62 L215.92 291.86 L216.92 292.10 L217.92 292.35 L218.93 292.60 L219.93 292.86 L220.93 293.12 L221.93 293.38 L222.93 293.65 L223.93 293.92 L224.94 294.20 L225.94 294.48 L226.94 294.76 L227.94 295.03 L228.94 295.31 L229.95 295.59 L230.95 295.86 L231.95 296.12 L232.95 296.38 L233.95 296.64 L234.96 296.89 L235.96 297.13 L236.96 297.37 L237.96 297.59 L238.96 297.81 L239.96 298.02 L240.97 298.22 L241.97 298.42 L242.97 298.62 L243.97 298.81 L244.97 299.00 L245.98 299.20 L246.98 299.39 L247.98 299.59 L248.98 299.79 L249.98 299.99 L250.99 300.19 L251.99 300.39 L252.99 300.60 L253.99 300.80 L254.99 301.00 L255.99 301.20 L257.00 301.39 L258.00 301.59 L259.00 301.78" stroke="#0000ff" stroke-width="1.05" fill="none" stroke-linejoin="round"/>
<g fill="#ff0000"><circle cx="43.60" cy="252.40" r="1.3"/><circle cx="50.00" cy="250.00" r="1.3"/><circle cx="56.40" cy="248.45" r="1.3"/><circle cx="62.79" cy="249.24" r="1.3"/><circle cx="69.19" cy="251.40" r="1.3"/><circle cx="75.59" cy="253.60" r="1.3"/><circle cx="81.99" cy="255.63" r="1.3"/><circle cx="88.39" cy="257.73" r="1.3"/><circle cx="94.78" cy="259.70" r="1.3"/><circle cx="101.18" cy="260.94" r="1.3"/><circle cx="107.58" cy="262.09" r="1.3"/><circle cx="113.98" cy="263.38" r="1.3"/><circle cx="120.38" cy="264.69" r="1.3"/><circle cx="126.77" cy="266.59" r="1.3"/><circle cx="133.17" cy="268.87" r="1.3"/><circle cx="139.57" cy="271.55" r="1.3"/><circle cx="145.97" cy="274.12" r="1.3"/><circle cx="152.37" cy="276.60" r="1.3"/><circle cx="158.76" cy="279.28" r="1.3"/><circle cx="165.16" cy="281.17" r="1.3"/><circle cx="171.56" cy="282.97" r="1.3"/><circle cx="177.96" cy="284.46" r="1.3"/><circle cx="184.36" cy="285.62" r="1.3"/><circle cx="190.75" cy="286.73" r="1.3"/><circle cx="197.15" cy="287.84" r="1.3"/><circle cx="203.55" cy="289.09" r="1.3"/><circle cx="209.95" cy="290.47" r="1.3"/><circle cx="216.35" cy="291.96" r="1.3"/><circle cx="222.74" cy="293.60" r="1.3"/><circle cx="229.14" cy="295.37" r="1.3"/><circle cx="235.54" cy="297.03" r="1.3"/><circle cx="241.94" cy="298.41" r="1.3"/><circle cx="248.34" cy="299.66" r="1.3"/><circle cx="254.73" cy="300.95" r="1.3"/></g><g fill="#000"><circle cx="45.73" cy="251.62" r="1.3"/><circle cx="52.13" cy="249.30" r="1.3"/><circle cx="58.53" cy="248.43" r="1.3"/><circle cx="64.93" cy="249.90" r="1.3"/><circle cx="71.32" cy="252.16" r="1.3"/><circle cx="77.72" cy="254.28" r="1.3"/><circle cx="84.12" cy="256.32" r="1.3"/><circle cx="90.52" cy="258.43" r="1.3"/><circle cx="96.92" cy="260.20" r="1.3"/><circle cx="103.31" cy="261.28" r="1.3"/><circle cx="109.71" cy="262.54" r="1.3"/><circle cx="116.11" cy="263.78" r="1.3"/><circle cx="122.51" cy="265.26" r="1.3"/><circle cx="128.91" cy="267.31" r="1.3"/><circle cx="135.30" cy="269.71" r="1.3"/><circle cx="141.70" cy="272.47" r="1.3"/><circle cx="148.10" cy="274.88" r="1.3"/><circle cx="154.50" cy="277.54" r="1.3"/><circle cx="160.90" cy="279.97" r="1.3"/><circle cx="167.30" cy="281.76" r="1.3"/><circle cx="173.69" cy="283.52" r="1.3"/><circle cx="180.09" cy="284.86" r="1.3"/><circle cx="186.49" cy="285.99" r="1.3"/><circle cx="192.89" cy="287.09" r="1.3"/><circle cx="199.29" cy="288.24" r="1.3"/><circle cx="205.68" cy="289.53" r="1.3"/><circle cx="212.08" cy="290.95" r="1.3"/><circle cx="218.48" cy="292.49" r="1.3"/><circle cx="224.88" cy="294.18" r="1.3"/><circle cx="231.28" cy="295.94" r="1.3"/><circle cx="237.67" cy="297.53" r="1.3"/><circle cx="244.07" cy="298.83" r="1.3"/><circle cx="250.47" cy="300.09" r="1.3"/><circle cx="256.87" cy="301.37" r="1.3"/></g>
<text class="tk" text-anchor="middle" x="62.30" y="316.80">0.012</text>
<text class="tk" text-anchor="middle" x="105.05" y="316.80">0.014</text>
<text class="tk" text-anchor="middle" x="147.80" y="316.80">0.016</text>
<text class="tk" text-anchor="middle" x="190.55" y="316.80">0.018</text>
<text class="tk" text-anchor="middle" x="233.30" y="316.80">0.02</text>
<text class="tk" text-anchor="end" x="38.6" y="246.90">70</text>
<text class="tk" text-anchor="end" x="38.6" y="288.90">65</text>
<text class="tt" text-anchor="middle" x="150.9" y="236.80">ρV</text>
</g>
<g>
<path d="M326.70 243.30H542.95M326.70 301.90H542.95" fill="none" stroke="#5c5c5c" stroke-width="1"/>
<path d="M327.95 302.30V257.95H328.58V302.30ZM330.08 302.30V257.95H330.71V302.30ZM332.21 302.30V257.95H332.84V302.30ZM334.35 302.30V257.95H334.97V302.30ZM336.48 302.30V257.95H337.10V302.30ZM338.61 302.30V257.95H339.23V302.30ZM340.74 302.30V257.95H341.37V302.30ZM342.87 302.30V257.95H343.50V302.30ZM345.00 302.30V257.95H345.63V302.30ZM347.13 302.30V257.95H347.76V302.30ZM349.26 302.30V257.95H349.89V302.30ZM351.40 302.30V257.95H352.02V302.30ZM353.53 302.30V257.95H354.15V302.30ZM355.66 302.30V257.95H356.28V302.30ZM357.79 302.30V257.95H358.42V302.30ZM359.92 302.30V257.95H360.55V302.30ZM362.05 302.30V257.95H362.68V302.30ZM364.18 302.30V257.95H364.81V302.30ZM366.31 302.30V257.95H366.94V302.30ZM368.45 302.30V257.95H369.07V302.30ZM370.58 302.30V257.95H371.20V302.30ZM372.71 302.30V257.95H373.33V302.30ZM374.84 302.30V257.95H375.46V302.30ZM376.97 302.30V257.95H377.60V302.30ZM379.10 302.30V257.95H379.73V302.30ZM381.23 302.30V257.95H381.86V302.30ZM383.36 302.30V257.95H383.99V302.30ZM385.49 302.30V257.95H386.12V302.30ZM387.63 302.30V257.95H388.25V302.30ZM389.76 302.30V257.95H390.38V302.30ZM391.89 302.30V257.95H392.51V302.30ZM394.02 302.30V257.95H394.65V302.30ZM396.15 302.30V257.95H396.78V302.30ZM398.28 302.30V257.95H398.91V302.30ZM400.41 302.30V257.95H401.04V302.30ZM402.54 302.30V257.95H403.17V302.30ZM404.68 302.30V257.95H405.30V302.30ZM406.81 302.30V257.95H407.43V302.30ZM408.94 302.30V257.95H409.56V302.30ZM411.07 302.30V257.95H411.70V302.30ZM413.20 302.30V257.95H413.83V302.30ZM415.33 302.30V257.95H415.96V302.30ZM417.46 302.30V257.95H418.09V302.30ZM419.59 302.30V257.95H420.22V302.30ZM421.72 302.30V257.95H422.35V302.30ZM423.86 302.30V257.95H424.48V302.30ZM425.99 302.30V257.95H426.61V302.30ZM428.12 302.30V257.95H428.74V302.30ZM430.25 302.30V287.25H430.88V302.30ZM432.38 302.30V287.25H433.01V302.30ZM434.51 302.30V257.95H435.14V302.30ZM436.64 302.30V257.95H437.27V302.30ZM438.77 302.30V287.25H439.40V302.30ZM440.91 302.30V287.25H441.53V302.30ZM443.04 302.30V287.25H443.66V302.30ZM445.17 302.30V257.95H445.79V302.30ZM447.30 302.30V257.95H447.93V302.30ZM449.43 302.30V257.95H450.06V302.30ZM451.56 302.30V257.95H452.19V302.30ZM453.69 302.30V257.95H454.32V302.30ZM455.82 302.30V257.95H456.45V302.30ZM457.95 302.30V257.95H458.58V302.30ZM460.09 302.30V257.95H460.71V302.30ZM462.22 302.30V257.95H462.84V302.30ZM464.35 302.30V287.25H464.97V302.30ZM466.48 302.30V287.25H467.11V302.30ZM468.61 302.30V257.95H469.24V302.30ZM470.74 302.30V257.95H471.37V302.30ZM472.87 302.30V257.95H473.50V302.30ZM475.00 302.30V257.95H475.63V302.30ZM477.14 302.30V257.95H477.76V302.30ZM479.27 302.30V257.95H479.89V302.30ZM481.40 302.30V257.95H482.02V302.30ZM483.53 302.30V257.95H484.16V302.30ZM485.66 302.30V257.95H486.29V302.30ZM487.79 302.30V257.95H488.42V302.30ZM489.92 302.30V257.95H490.55V302.30ZM492.05 302.30V257.95H492.68V302.30ZM494.19 302.30V257.95H494.81V302.30ZM496.32 302.30V257.95H496.94V302.30ZM498.45 302.30V257.95H499.07V302.30ZM500.58 302.30V257.95H501.20V302.30ZM502.71 302.30V257.95H503.34V302.30ZM504.84 302.30V257.95H505.47V302.30ZM506.97 302.30V257.95H507.60V302.30ZM509.10 302.30V257.95H509.73V302.30ZM511.23 302.30V257.95H511.86V302.30ZM513.37 302.30V257.95H513.99V302.30ZM515.50 302.30V257.95H516.12V302.30ZM517.63 302.30V257.95H518.25V302.30ZM519.76 302.30V272.60H520.39V302.30ZM521.89 302.30V272.60H522.52V302.30ZM524.02 302.30V272.60H524.65V302.30ZM526.15 302.30V272.60H526.78V302.30ZM528.28 302.30V272.60H528.91V302.30ZM530.42 302.30V272.60H531.04V302.30ZM532.55 302.30V272.60H533.17V302.30ZM534.68 302.30V272.60H535.30V302.30ZM536.81 302.30V272.60H537.44V302.30ZM538.94 302.30V272.60H539.57V302.30ZM541.07 302.30V272.60H541.70V302.30Z" fill="#3087cf"/>
<path d="M327.20 302.30V257.95H328.05V302.30ZM328.48 302.30V257.95H330.18V302.30ZM330.61 302.30V257.95H332.31V302.30ZM332.74 302.30V257.95H334.45V302.30ZM334.87 302.30V257.95H336.58V302.30ZM337.00 302.30V257.95H338.71V302.30ZM339.13 302.30V257.95H340.84V302.30ZM341.27 302.30V257.95H342.97V302.30ZM343.40 302.30V257.95H345.10V302.30ZM345.53 302.30V257.95H347.23V302.30ZM347.66 302.30V257.95H349.36V302.30ZM349.79 302.30V257.95H351.50V302.30ZM351.92 302.30V257.95H353.63V302.30ZM354.05 302.30V257.95H355.76V302.30ZM356.18 302.30V257.95H357.89V302.30ZM358.32 302.30V257.95H360.02V302.30ZM360.45 302.30V257.95H362.15V302.30ZM362.58 302.30V257.95H364.28V302.30ZM364.71 302.30V257.95H366.41V302.30ZM366.84 302.30V257.95H368.55V302.30ZM368.97 302.30V257.95H370.68V302.30ZM371.10 302.30V257.95H372.81V302.30ZM373.23 302.30V257.95H374.94V302.30ZM375.36 302.30V257.95H377.07V302.30ZM377.50 302.30V257.95H379.20V302.30ZM379.63 302.30V257.95H381.33V302.30ZM381.76 302.30V257.95H383.46V302.30ZM383.89 302.30V257.95H385.59V302.30ZM386.02 302.30V257.95H387.73V302.30ZM388.15 302.30V257.95H389.86V302.30ZM390.28 302.30V257.95H391.99V302.30ZM392.41 302.30V257.95H394.12V302.30ZM394.55 302.30V257.95H396.25V302.30ZM396.68 302.30V257.95H398.38V302.30ZM398.81 302.30V257.95H400.51V302.30ZM400.94 302.30V257.95H402.64V302.30ZM403.07 302.30V257.95H404.78V302.30ZM405.20 302.30V257.95H406.91V302.30ZM407.33 302.30V257.95H409.04V302.30ZM409.46 302.30V257.95H411.17V302.30ZM411.60 302.30V257.95H413.30V302.30ZM413.73 302.30V257.95H415.43V302.30ZM415.86 302.30V257.95H417.56V302.30ZM417.99 302.30V257.95H419.69V302.30ZM420.12 302.30V257.95H421.82V302.30ZM422.25 302.30V257.95H423.96V302.30ZM424.38 302.30V257.95H426.09V302.30ZM426.51 302.30V257.95H428.22V302.30ZM428.64 302.30V257.95H430.35V302.30ZM430.78 302.30V287.25H432.48V302.30ZM432.91 302.30V257.95H434.61V302.30ZM435.04 302.30V257.95H436.74V302.30ZM437.17 302.30V257.95H438.87V302.30ZM439.30 302.30V287.25H441.01V302.30ZM441.43 302.30V287.25H443.14V302.30ZM443.56 302.30V257.95H445.27V302.30ZM445.69 302.30V257.95H447.40V302.30ZM447.83 302.30V257.95H449.53V302.30ZM449.96 302.30V257.95H451.66V302.30ZM452.09 302.30V257.95H453.79V302.30ZM454.22 302.30V257.95H455.92V302.30ZM456.35 302.30V257.95H458.05V302.30ZM458.48 302.30V257.95H460.19V302.30ZM460.61 302.30V257.95H462.32V302.30ZM462.74 302.30V257.95H464.45V302.30ZM464.87 302.30V287.25H466.58V302.30ZM467.01 302.30V257.95H468.71V302.30ZM469.14 302.30V257.95H470.84V302.30ZM471.27 302.30V257.95H472.97V302.30ZM473.40 302.30V257.95H475.10V302.30ZM475.53 302.30V257.95H477.24V302.30ZM477.66 302.30V257.95H479.37V302.30ZM479.79 302.30V257.95H481.50V302.30ZM481.92 302.30V257.95H483.63V302.30ZM484.06 302.30V257.95H485.76V302.30ZM486.19 302.30V257.95H487.89V302.30ZM488.32 302.30V257.95H490.02V302.30ZM490.45 302.30V257.95H492.15V302.30ZM492.58 302.30V257.95H494.29V302.30ZM494.71 302.30V257.95H496.42V302.30ZM496.84 302.30V257.95H498.55V302.30ZM498.97 302.30V257.95H500.68V302.30ZM501.10 302.30V257.95H502.81V302.30ZM503.24 302.30V257.95H504.94V302.30ZM505.37 302.30V257.95H507.07V302.30ZM507.50 302.30V257.95H509.20V302.30ZM509.63 302.30V257.95H511.33V302.30ZM511.76 302.30V257.95H513.47V302.30ZM513.89 302.30V257.95H515.60V302.30ZM516.02 302.30V257.95H517.73V302.30ZM518.15 302.30V257.95H519.86V302.30ZM520.29 302.30V272.60H521.99V302.30ZM522.42 302.30V257.95H524.12V302.30ZM524.55 302.30V272.60H526.25V302.30ZM526.68 302.30V272.60H528.38V302.30ZM528.81 302.30V257.95H530.52V302.30ZM530.94 302.30V272.60H532.65V302.30ZM533.07 302.30V272.60H534.78V302.30ZM535.20 302.30V257.95H536.91V302.30ZM537.34 302.30V272.60H539.04V302.30ZM539.47 302.30V272.60H541.17V302.30ZM541.60 302.30V272.60H542.45V302.30Z" fill="#0c6fc0"/>
<path d="M327.20 243.30V301.90M542.45 243.30V301.90" stroke="#5c5c5c" stroke-width="1" fill="none"/>
<path d="M327.20 257.95V302.40M542.45 272.60V302.40M326.70 301.90H542.95" stroke="#17548f" stroke-width="1" fill="none"/>
<path d="M346.30 301.90v-2.2M346.30 243.30v2.2M389.05 301.90v-2.2M389.05 243.30v2.2M431.80 301.90v-2.2M431.80 243.30v2.2M474.55 301.90v-2.2M474.55 243.30v2.2M517.30 301.90v-2.2M517.30 243.30v2.2M327.20 287.25h2.2M542.45 287.25h-2.2M327.20 272.60h2.2M542.45 272.60h-2.2M327.20 257.95h2.2M542.45 257.95h-2.2" stroke="#5c5c5c" stroke-width="0.9" fill="none"/>
<text class="tk" text-anchor="middle" x="345.90" y="316.80">0.012</text>
<text class="tk" text-anchor="middle" x="388.65" y="316.80">0.014</text>
<text class="tk" text-anchor="middle" x="431.40" y="316.80">0.016</text>
<text class="tk" text-anchor="middle" x="474.15" y="316.80">0.018</text>
<text class="tk" text-anchor="middle" x="516.90" y="316.80">0.02</text>
<text class="tk yl" text-anchor="end" x="322.6" y="290.95">POD</text>
<text class="tk yl" text-anchor="end" x="322.6" y="276.30">DMD</text>
<text class="tk yl" text-anchor="end" x="322.6" y="261.65">RDMD</text>
</g>
<g>
<path d="M62.70 340.00V398.60M105.45 340.00V398.60M148.20 340.00V398.60M190.95 340.00V398.60M233.70 340.00V398.60M43.60 342.50H259.00M43.60 387.40H259.00" stroke="#e0e0e0" stroke-width="0.8" fill="none"/>
<rect x="43.60" y="340.00" width="215.40" height="58.60" fill="none" stroke="#5c5c5c" stroke-width="1"/>
<path d="M62.70 398.60v-2.2M62.70 340.00v2.2M105.45 398.60v-2.2M105.45 340.00v2.2M148.20 398.60v-2.2M148.20 340.00v2.2M190.95 398.60v-2.2M190.95 340.00v2.2M233.70 398.60v-2.2M233.70 340.00v2.2M43.60 342.50h2.2M259.00 342.50h-2.2M43.60 387.40h2.2M259.00 387.40h-2.2" stroke="#5c5c5c" stroke-width="0.9" fill="none"/>
<path d="M43.60 398.80 L44.60 398.08 L45.60 397.40 L46.61 396.75 L47.61 396.12 L48.61 395.52 L49.61 394.93 L50.61 394.34 L51.61 393.75 L52.62 393.15 L53.62 392.54 L54.62 391.90 L55.62 391.24 L56.62 390.54 L57.63 389.79 L58.63 389.00 L59.63 388.15 L60.63 387.26 L61.63 386.33 L62.64 385.36 L63.64 384.37 L64.64 383.35 L65.64 382.31 L66.64 381.27 L67.64 380.25 L68.65 379.26 L69.65 378.32 L70.65 377.43 L71.65 376.60 L72.65 375.82 L73.66 375.07 L74.66 374.35 L75.66 373.64 L76.66 372.93 L77.66 372.23 L78.67 371.54 L79.67 370.86 L80.67 370.21 L81.67 369.59 L82.67 369.02 L83.67 368.48 L84.68 367.98 L85.68 367.52 L86.68 367.10 L87.68 366.71 L88.68 366.37 L89.69 366.05 L90.69 365.77 L91.69 365.51 L92.69 365.28 L93.69 365.06 L94.69 364.86 L95.70 364.68 L96.70 364.51 L97.70 364.35 L98.70 364.19 L99.70 364.04 L100.71 363.90 L101.71 363.76 L102.71 363.62 L103.71 363.49 L104.71 363.37 L105.72 363.25 L106.72 363.13 L107.72 363.03 L108.72 362.93 L109.72 362.84 L110.72 362.75 L111.73 362.66 L112.73 362.56 L113.73 362.46 L114.73 362.35 L115.73 362.23 L116.74 362.10 L117.74 361.95 L118.74 361.78 L119.74 361.60 L120.74 361.39 L121.75 361.17 L122.75 360.93 L123.75 360.67 L124.75 360.39 L125.75 360.08 L126.75 359.77 L127.76 359.44 L128.76 359.10 L129.76 358.76 L130.76 358.42 L131.76 358.08 L132.77 357.75 L133.77 357.42 L134.77 357.10 L135.77 356.78 L136.77 356.46 L137.77 356.14 L138.78 355.81 L139.78 355.47 L140.78 355.13 L141.78 354.79 L142.78 354.44 L143.79 354.10 L144.79 353.77 L145.79 353.46 L146.79 353.17 L147.79 352.90 L148.80 352.63 L149.80 352.36 L150.80 352.07 L151.80 351.77 L152.80 351.46 L153.80 351.15 L154.81 350.85 L155.81 350.56 L156.81 350.29 L157.81 350.04 L158.81 349.83 L159.82 349.65 L160.82 349.49 L161.82 349.36 L162.82 349.25 L163.82 349.16 L164.83 349.08 L165.83 349.01 L166.83 348.95 L167.83 348.89 L168.83 348.84 L169.83 348.79 L170.84 348.75 L171.84 348.70 L172.84 348.65 L173.84 348.61 L174.84 348.56 L175.85 348.51 L176.85 348.46 L177.85 348.41 L178.85 348.35 L179.85 348.30 L180.85 348.25 L181.86 348.21 L182.86 348.16 L183.86 348.12 L184.86 348.07 L185.86 348.03 L186.87 347.98 L187.87 347.93 L188.87 347.87 L189.87 347.81 L190.87 347.74 L191.88 347.66 L192.88 347.57 L193.88 347.47 L194.88 347.37 L195.88 347.26 L196.88 347.14 L197.89 347.01 L198.89 346.88 L199.89 346.75 L200.89 346.60 L201.89 346.45 L202.90 346.30 L203.90 346.14 L204.90 345.98 L205.90 345.82 L206.90 345.65 L207.91 345.48 L208.91 345.30 L209.91 345.13 L210.91 344.95 L211.91 344.77 L212.91 344.59 L213.92 344.41 L214.92 344.24 L215.92 344.06 L216.92 343.88 L217.92 343.71 L218.93 343.53 L219.93 343.36 L220.93 343.18 L221.93 343.01 L222.93 342.84 L223.93 342.67 L224.94 342.51 L225.94 342.35 L226.94 342.20 L227.94 342.06 L228.94 341.93 L229.95 341.81 L230.95 341.70 L231.95 341.60 L232.95 341.52 L233.95 341.44 L234.96 341.37 L235.96 341.31 L236.96 341.25 L237.96 341.20 L238.96 341.15 L239.96 341.11 L240.97 341.06 L241.97 341.01 L242.97 340.97 L243.97 340.92 L244.97 340.86 L245.98 340.80 L246.98 340.74 L247.98 340.66 L248.98 340.59 L249.98 340.51 L250.99 340.43 L251.99 340.35 L252.99 340.28 L253.99 340.20 L254.99 340.13 L255.99 340.06 L257.00 340.00 L258.00 339.95 L259.00 339.90" stroke="#0000ff" stroke-width="1.05" fill="none" stroke-linejoin="round"/>
<g fill="#ff0000"><circle cx="43.60" cy="398.80" r="1.3"/><circle cx="50.00" cy="394.70" r="1.3"/><circle cx="56.40" cy="390.70" r="1.3"/><circle cx="62.79" cy="385.21" r="1.3"/><circle cx="69.19" cy="378.74" r="1.3"/><circle cx="75.59" cy="373.69" r="1.3"/><circle cx="81.99" cy="369.41" r="1.3"/><circle cx="88.39" cy="366.47" r="1.3"/><circle cx="94.78" cy="364.85" r="1.3"/><circle cx="101.18" cy="363.83" r="1.3"/><circle cx="107.58" cy="363.04" r="1.3"/><circle cx="113.98" cy="362.44" r="1.3"/><circle cx="120.38" cy="361.47" r="1.3"/><circle cx="126.77" cy="359.76" r="1.3"/><circle cx="133.17" cy="357.61" r="1.3"/><circle cx="139.57" cy="355.54" r="1.3"/><circle cx="145.97" cy="353.41" r="1.3"/><circle cx="152.37" cy="351.59" r="1.3"/><circle cx="158.76" cy="349.84" r="1.3"/><circle cx="165.16" cy="349.06" r="1.3"/><circle cx="171.56" cy="348.71" r="1.3"/><circle cx="177.96" cy="348.40" r="1.3"/><circle cx="184.36" cy="348.10" r="1.3"/><circle cx="190.75" cy="347.75" r="1.3"/><circle cx="197.15" cy="347.11" r="1.3"/><circle cx="203.55" cy="346.20" r="1.3"/><circle cx="209.95" cy="345.12" r="1.3"/><circle cx="216.35" cy="343.98" r="1.3"/><circle cx="222.74" cy="342.87" r="1.3"/><circle cx="229.14" cy="341.90" r="1.3"/><circle cx="235.54" cy="341.33" r="1.3"/><circle cx="241.94" cy="341.02" r="1.3"/><circle cx="248.34" cy="340.64" r="1.3"/><circle cx="254.73" cy="340.15" r="1.3"/></g><g fill="#000"><circle cx="45.73" cy="397.31" r="1.3"/><circle cx="52.13" cy="393.45" r="1.3"/><circle cx="58.53" cy="389.08" r="1.3"/><circle cx="64.93" cy="383.05" r="1.3"/><circle cx="71.32" cy="376.87" r="1.3"/><circle cx="77.72" cy="372.19" r="1.3"/><circle cx="84.12" cy="368.25" r="1.3"/><circle cx="90.52" cy="365.81" r="1.3"/><circle cx="96.92" cy="364.47" r="1.3"/><circle cx="103.31" cy="363.54" r="1.3"/><circle cx="109.71" cy="362.84" r="1.3"/><circle cx="116.11" cy="362.19" r="1.3"/><circle cx="122.51" cy="360.99" r="1.3"/><circle cx="128.91" cy="359.05" r="1.3"/><circle cx="135.30" cy="356.93" r="1.3"/><circle cx="141.70" cy="354.81" r="1.3"/><circle cx="148.10" cy="352.82" r="1.3"/><circle cx="154.50" cy="350.94" r="1.3"/><circle cx="160.90" cy="349.48" r="1.3"/><circle cx="167.30" cy="348.92" r="1.3"/><circle cx="173.69" cy="348.61" r="1.3"/><circle cx="180.09" cy="348.29" r="1.3"/><circle cx="186.49" cy="348.00" r="1.3"/><circle cx="192.89" cy="347.57" r="1.3"/><circle cx="199.29" cy="346.83" r="1.3"/><circle cx="205.68" cy="345.85" r="1.3"/><circle cx="212.08" cy="344.74" r="1.3"/><circle cx="218.48" cy="343.61" r="1.3"/><circle cx="224.88" cy="342.52" r="1.3"/><circle cx="231.28" cy="341.67" r="1.3"/><circle cx="237.67" cy="341.22" r="1.3"/><circle cx="244.07" cy="340.91" r="1.3"/><circle cx="250.47" cy="340.47" r="1.3"/><circle cx="256.87" cy="340.01" r="1.3"/></g>
<text class="tk" text-anchor="middle" x="62.30" y="413.50">0.012</text>
<text class="tk" text-anchor="middle" x="105.05" y="413.50">0.014</text>
<text class="tk" text-anchor="middle" x="147.80" y="413.50">0.016</text>
<text class="tk" text-anchor="middle" x="190.55" y="413.50">0.018</text>
<text class="tk" text-anchor="middle" x="233.30" y="413.50">0.02</text>
<text class="tk" text-anchor="end" x="38.6" y="345.80">90</text>
<text class="tk" text-anchor="end" x="38.6" y="390.70">85</text>
<text class="tt" text-anchor="middle" x="150.9" y="333.50">ρW</text>
</g>
<g>
<path d="M326.70 340.00H542.95M326.70 398.60H542.95" fill="none" stroke="#5c5c5c" stroke-width="1"/>
<path d="M327.95 399.00V383.95H328.58V399.00ZM330.08 399.00V383.95H330.71V399.00ZM332.21 399.00V383.95H332.84V399.00ZM334.35 399.00V383.95H334.97V399.00ZM336.48 399.00V383.95H337.10V399.00ZM338.61 399.00V383.95H339.23V399.00ZM340.74 399.00V383.95H341.37V399.00ZM342.87 399.00V383.95H343.50V399.00ZM345.00 399.00V383.95H345.63V399.00ZM347.13 399.00V383.95H347.76V399.00ZM349.26 399.00V383.95H349.89V399.00ZM351.40 399.00V383.95H352.02V399.00ZM353.53 399.00V383.95H354.15V399.00ZM355.66 399.00V383.95H356.28V399.00ZM357.79 399.00V383.95H358.42V399.00ZM359.92 399.00V383.95H360.55V399.00ZM362.05 399.00V383.95H362.68V399.00ZM364.18 399.00V383.95H364.81V399.00ZM366.31 399.00V383.95H366.94V399.00ZM368.45 399.00V383.95H369.07V399.00ZM370.58 399.00V383.95H371.20V399.00ZM372.71 399.00V383.95H373.33V399.00ZM374.84 399.00V383.95H375.46V399.00ZM376.97 399.00V383.95H377.60V399.00ZM379.10 399.00V383.95H379.73V399.00ZM381.23 399.00V383.95H381.86V399.00ZM383.36 399.00V383.95H383.99V399.00ZM385.49 399.00V383.95H386.12V399.00ZM387.63 399.00V383.95H388.25V399.00ZM389.76 399.00V383.95H390.38V399.00ZM391.89 399.00V383.95H392.51V399.00ZM394.02 399.00V383.95H394.65V399.00ZM396.15 399.00V383.95H396.78V399.00ZM398.28 399.00V383.95H398.91V399.00ZM400.41 399.00V383.95H401.04V399.00ZM402.54 399.00V383.95H403.17V399.00ZM404.68 399.00V383.95H405.30V399.00ZM406.81 399.00V383.95H407.43V399.00ZM408.94 399.00V383.95H409.56V399.00ZM411.07 399.00V383.95H411.70V399.00ZM413.20 399.00V383.95H413.83V399.00ZM415.33 399.00V383.95H415.96V399.00ZM417.46 399.00V383.95H418.09V399.00ZM419.59 399.00V383.95H420.22V399.00ZM421.72 399.00V383.95H422.35V399.00ZM423.86 399.00V383.95H424.48V399.00ZM425.99 399.00V383.95H426.61V399.00ZM428.12 399.00V383.95H428.74V399.00ZM430.25 399.00V383.95H430.88V399.00ZM432.38 399.00V383.95H433.01V399.00ZM434.51 399.00V383.95H435.14V399.00ZM436.64 399.00V383.95H437.27V399.00ZM438.77 399.00V383.95H439.40V399.00ZM440.91 399.00V383.95H441.53V399.00ZM443.04 399.00V383.95H443.66V399.00ZM445.17 399.00V383.95H445.79V399.00ZM447.30 399.00V383.95H447.93V399.00ZM449.43 399.00V383.95H450.06V399.00ZM451.56 399.00V383.95H452.19V399.00ZM453.69 399.00V383.95H454.32V399.00ZM455.82 399.00V383.95H456.45V399.00ZM457.95 399.00V383.95H458.58V399.00ZM460.09 399.00V383.95H460.71V399.00ZM462.22 399.00V383.95H462.84V399.00ZM464.35 399.00V383.95H464.97V399.00ZM466.48 399.00V383.95H467.11V399.00ZM468.61 399.00V383.95H469.24V399.00ZM470.74 399.00V383.95H471.37V399.00ZM472.87 399.00V383.95H473.50V399.00ZM475.00 399.00V383.95H475.63V399.00ZM477.14 399.00V383.95H477.76V399.00ZM479.27 399.00V383.95H479.89V399.00ZM481.40 399.00V383.95H482.02V399.00ZM483.53 399.00V383.95H484.16V399.00ZM485.66 399.00V383.95H486.29V399.00ZM487.79 399.00V383.95H488.42V399.00ZM489.92 399.00V383.95H490.55V399.00ZM492.05 399.00V383.95H492.68V399.00ZM494.19 399.00V383.95H494.81V399.00ZM496.32 399.00V383.95H496.94V399.00ZM498.45 399.00V383.95H499.07V399.00ZM500.58 399.00V383.95H501.20V399.00ZM502.71 399.00V383.95H503.34V399.00ZM504.84 399.00V383.95H505.47V399.00ZM506.97 399.00V383.95H507.60V399.00ZM509.10 399.00V383.95H509.73V399.00ZM511.23 399.00V383.95H511.86V399.00ZM513.37 399.00V383.95H513.99V399.00ZM515.50 399.00V383.95H516.12V399.00ZM517.63 399.00V383.95H518.25V399.00ZM519.76 399.00V383.95H520.39V399.00ZM521.89 399.00V383.95H522.52V399.00ZM524.02 399.00V383.95H524.65V399.00ZM526.15 399.00V383.95H526.78V399.00ZM528.28 399.00V383.95H528.91V399.00ZM530.42 399.00V383.95H531.04V399.00ZM532.55 399.00V383.95H533.17V399.00ZM534.68 399.00V383.95H535.30V399.00ZM536.81 399.00V383.95H537.44V399.00ZM538.94 399.00V383.95H539.57V399.00ZM541.07 399.00V383.95H541.70V399.00Z" fill="#3087cf"/>
<path d="M327.20 399.00V383.95H328.05V399.00ZM328.48 399.00V383.95H330.18V399.00ZM330.61 399.00V383.95H332.31V399.00ZM332.74 399.00V383.95H334.45V399.00ZM334.87 399.00V383.95H336.58V399.00ZM337.00 399.00V383.95H338.71V399.00ZM339.13 399.00V383.95H340.84V399.00ZM341.27 399.00V383.95H342.97V399.00ZM343.40 399.00V383.95H345.10V399.00ZM345.53 399.00V383.95H347.23V399.00ZM347.66 399.00V383.95H349.36V399.00ZM349.79 399.00V383.95H351.50V399.00ZM351.92 399.00V383.95H353.63V399.00ZM354.05 399.00V383.95H355.76V399.00ZM356.18 399.00V383.95H357.89V399.00ZM358.32 399.00V383.95H360.02V399.00ZM360.45 399.00V383.95H362.15V399.00ZM362.58 399.00V383.95H364.28V399.00ZM364.71 399.00V383.95H366.41V399.00ZM366.84 399.00V383.95H368.55V399.00ZM368.97 399.00V383.95H370.68V399.00ZM371.10 399.00V383.95H372.81V399.00ZM373.23 399.00V383.95H374.94V399.00ZM375.36 399.00V383.95H377.07V399.00ZM377.50 399.00V383.95H379.20V399.00ZM379.63 399.00V383.95H381.33V399.00ZM381.76 399.00V383.95H383.46V399.00ZM383.89 399.00V383.95H385.59V399.00ZM386.02 399.00V383.95H387.73V399.00ZM388.15 399.00V383.95H389.86V399.00ZM390.28 399.00V383.95H391.99V399.00ZM392.41 399.00V383.95H394.12V399.00ZM394.55 399.00V383.95H396.25V399.00ZM396.68 399.00V383.95H398.38V399.00ZM398.81 399.00V383.95H400.51V399.00ZM400.94 399.00V383.95H402.64V399.00ZM403.07 399.00V383.95H404.78V399.00ZM405.20 399.00V383.95H406.91V399.00ZM407.33 399.00V383.95H409.04V399.00ZM409.46 399.00V383.95H411.17V399.00ZM411.60 399.00V383.95H413.30V399.00ZM413.73 399.00V354.65H415.43V399.00ZM415.86 399.00V383.95H417.56V399.00ZM417.99 399.00V383.95H419.69V399.00ZM420.12 399.00V383.95H421.82V399.00ZM422.25 399.00V383.95H423.96V399.00ZM424.38 399.00V383.95H426.09V399.00ZM426.51 399.00V383.95H428.22V399.00ZM428.64 399.00V383.95H430.35V399.00ZM430.78 399.00V383.95H432.48V399.00ZM432.91 399.00V383.95H434.61V399.00ZM435.04 399.00V383.95H436.74V399.00ZM437.17 399.00V383.95H438.87V399.00ZM439.30 399.00V383.95H441.01V399.00ZM441.43 399.00V383.95H443.14V399.00ZM443.56 399.00V383.95H445.27V399.00ZM445.69 399.00V383.95H447.40V399.00ZM447.83 399.00V383.95H449.53V399.00ZM449.96 399.00V383.95H451.66V399.00ZM452.09 399.00V383.95H453.79V399.00ZM454.22 399.00V383.95H455.92V399.00ZM456.35 399.00V383.95H458.05V399.00ZM458.48 399.00V354.65H460.19V399.00ZM460.61 399.00V383.95H462.32V399.00ZM462.74 399.00V383.95H464.45V399.00ZM464.87 399.00V383.95H466.58V399.00ZM467.01 399.00V354.65H468.71V399.00ZM469.14 399.00V383.95H470.84V399.00ZM471.27 399.00V383.95H472.97V399.00ZM473.40 399.00V383.95H475.10V399.00ZM475.53 399.00V354.65H477.24V399.00ZM477.66 399.00V383.95H479.37V399.00ZM479.79 399.00V383.95H481.50V399.00ZM481.92 399.00V383.95H483.63V399.00ZM484.06 399.00V383.95H485.76V399.00ZM486.19 399.00V383.95H487.89V399.00ZM488.32 399.00V383.95H490.02V399.00ZM490.45 399.00V383.95H492.15V399.00ZM492.58 399.00V383.95H494.29V399.00ZM494.71 399.00V383.95H496.42V399.00ZM496.84 399.00V383.95H498.55V399.00ZM498.97 399.00V383.95H500.68V399.00ZM501.10 399.00V383.95H502.81V399.00ZM503.24 399.00V383.95H504.94V399.00ZM505.37 399.00V383.95H507.07V399.00ZM507.50 399.00V383.95H509.20V399.00ZM509.63 399.00V383.95H511.33V399.00ZM511.76 399.00V383.95H513.47V399.00ZM513.89 399.00V383.95H515.60V399.00ZM516.02 399.00V383.95H517.73V399.00ZM518.15 399.00V383.95H519.86V399.00ZM520.29 399.00V383.95H521.99V399.00ZM522.42 399.00V383.95H524.12V399.00ZM524.55 399.00V383.95H526.25V399.00ZM526.68 399.00V383.95H528.38V399.00ZM528.81 399.00V383.95H530.52V399.00ZM530.94 399.00V383.95H532.65V399.00ZM533.07 399.00V383.95H534.78V399.00ZM535.20 399.00V383.95H536.91V399.00ZM537.34 399.00V383.95H539.04V399.00ZM539.47 399.00V383.95H541.17V399.00ZM541.60 399.00V383.95H542.45V399.00Z" fill="#0c6fc0"/>
<path d="M327.20 340.00V398.60M542.45 340.00V398.60" stroke="#5c5c5c" stroke-width="1" fill="none"/>
<path d="M327.20 383.95V399.10M542.45 383.95V399.10M326.70 398.60H542.95" stroke="#17548f" stroke-width="1" fill="none"/>
<path d="M346.30 398.60v-2.2M346.30 340.00v2.2M389.05 398.60v-2.2M389.05 340.00v2.2M431.80 398.60v-2.2M431.80 340.00v2.2M474.55 398.60v-2.2M474.55 340.00v2.2M517.30 398.60v-2.2M517.30 340.00v2.2M327.20 383.95h2.2M542.45 383.95h-2.2M327.20 369.30h2.2M542.45 369.30h-2.2M327.20 354.65h2.2M542.45 354.65h-2.2" stroke="#5c5c5c" stroke-width="0.9" fill="none"/>
<text class="tk" text-anchor="middle" x="345.90" y="413.50">0.012</text>
<text class="tk" text-anchor="middle" x="388.65" y="413.50">0.014</text>
<text class="tk" text-anchor="middle" x="431.40" y="413.50">0.016</text>
<text class="tk" text-anchor="middle" x="474.15" y="413.50">0.018</text>
<text class="tk" text-anchor="middle" x="516.90" y="413.50">0.02</text>
<text class="tk yl" text-anchor="end" x="322.6" y="387.65">POD</text>
<text class="tk yl" text-anchor="end" x="322.6" y="373.00">DMD</text>
<text class="tk yl" text-anchor="end" x="322.6" y="358.35">RDMD</text>
</g>
<g>
<path d="M62.70 436.80V495.40M105.45 436.80V495.40M148.20 436.80V495.40M190.95 436.80V495.40M233.70 436.80V495.40M43.60 445.70H259.00M43.60 470.40H259.00" stroke="#e0e0e0" stroke-width="0.8" fill="none"/>
<rect x="43.60" y="436.80" width="215.40" height="58.60" fill="none" stroke="#5c5c5c" stroke-width="1"/>
<path d="M62.70 495.40v-2.2M62.70 436.80v2.2M105.45 495.40v-2.2M105.45 436.80v2.2M148.20 495.40v-2.2M148.20 436.80v2.2M190.95 495.40v-2.2M190.95 436.80v2.2M233.70 495.40v-2.2M233.70 436.80v2.2M43.60 445.70h2.2M259.00 445.70h-2.2M43.60 470.40h2.2M259.00 470.40h-2.2M43.60 495.30h2.2M259.00 495.30h-2.2" stroke="#5c5c5c" stroke-width="0.9" fill="none"/>
<path d="M43.60 480.40 L44.60 480.26 L45.60 480.01 L46.61 479.66 L47.61 479.20 L48.61 478.66 L49.61 478.03 L50.61 477.32 L51.61 476.53 L52.62 475.68 L53.62 474.76 L54.62 473.79 L55.62 472.77 L56.62 471.68 L57.63 470.54 L58.63 469.34 L59.63 468.08 L60.63 466.76 L61.63 465.38 L62.64 463.95 L63.64 462.49 L64.64 461.02 L65.64 459.53 L66.64 458.05 L67.64 456.58 L68.65 455.13 L69.65 453.69 L70.65 452.27 L71.65 450.88 L72.65 449.51 L73.66 448.18 L74.66 446.89 L75.66 445.65 L76.66 444.47 L77.66 443.36 L78.67 442.32 L79.67 441.37 L80.67 440.53 L81.67 439.81 L82.67 439.22 L83.67 438.81 L84.68 438.61 L85.68 438.66 L86.68 438.96 L87.68 439.47 L88.68 440.15 L89.69 440.99 L90.69 441.95 L91.69 443.04 L92.69 444.25 L93.69 445.57 L94.69 447.00 L95.70 448.53 L96.70 450.15 L97.70 451.85 L98.70 453.62 L99.70 455.45 L100.71 457.33 L101.71 459.25 L102.71 461.20 L103.71 463.16 L104.71 465.12 L105.72 467.05 L106.72 468.96 L107.72 470.82 L108.72 472.63 L109.72 474.36 L110.72 476.02 L111.73 477.59 L112.73 479.05 L113.73 480.41 L114.73 481.67 L115.73 482.81 L116.74 483.85 L117.74 484.77 L118.74 485.59 L119.74 486.31 L120.74 486.93 L121.75 487.47 L122.75 487.93 L123.75 488.31 L124.75 488.64 L125.75 488.90 L126.75 489.08 L127.76 489.19 L128.76 489.21 L129.76 489.13 L130.76 488.97 L131.76 488.73 L132.77 488.43 L133.77 488.09 L134.77 487.70 L135.77 487.28 L136.77 486.82 L137.77 486.32 L138.78 485.76 L139.78 485.14 L140.78 484.47 L141.78 483.74 L142.78 482.97 L143.79 482.18 L144.79 481.37 L145.79 480.57 L146.79 479.78 L147.79 479.00 L148.80 478.23 L149.80 477.46 L150.80 476.68 L151.80 475.91 L152.80 475.15 L153.80 474.42 L154.81 473.73 L155.81 473.08 L156.81 472.49 L157.81 471.96 L158.81 471.48 L159.82 471.07 L160.82 470.72 L161.82 470.44 L162.82 470.22 L163.82 470.08 L164.83 470.00 L165.83 470.01 L166.83 470.09 L167.83 470.24 L168.83 470.46 L169.83 470.75 L170.84 471.10 L171.84 471.50 L172.84 471.95 L173.84 472.41 L174.84 472.88 L175.85 473.33 L176.85 473.76 L177.85 474.16 L178.85 474.54 L179.85 474.90 L180.85 475.23 L181.86 475.56 L182.86 475.86 L183.86 476.15 L184.86 476.39 L185.86 476.59 L186.87 476.73 L187.87 476.80 L188.87 476.78 L189.87 476.69 L190.87 476.52 L191.88 476.30 L192.88 476.04 L193.88 475.73 L194.88 475.38 L195.88 474.99 L196.88 474.55 L197.89 474.06 L198.89 473.51 L199.89 472.90 L200.89 472.25 L201.89 471.55 L202.90 470.83 L203.90 470.08 L204.90 469.31 L205.90 468.52 L206.90 467.70 L207.91 466.86 L208.91 465.99 L209.91 465.08 L210.91 464.14 L211.91 463.17 L212.91 462.17 L213.92 461.15 L214.92 460.12 L215.92 459.08 L216.92 458.05 L217.92 457.02 L218.93 456.00 L219.93 455.00 L220.93 454.02 L221.93 453.06 L222.93 452.14 L223.93 451.25 L224.94 450.39 L225.94 449.57 L226.94 448.78 L227.94 448.04 L228.94 447.34 L229.95 446.68 L230.95 446.06 L231.95 445.48 L232.95 444.93 L233.95 444.42 L234.96 443.95 L235.96 443.51 L236.96 443.09 L237.96 442.71 L238.96 442.35 L239.96 442.01 L240.97 441.70 L241.97 441.40 L242.97 441.12 L243.97 440.87 L244.97 440.63 L245.98 440.41 L246.98 440.20 L247.98 440.00 L248.98 439.81 L249.98 439.62 L250.99 439.43 L251.99 439.22 L252.99 439.00 L253.99 438.76 L254.99 438.49 L255.99 438.19 L257.00 437.85 L258.00 437.47 L259.00 437.05" stroke="#0000ff" stroke-width="1.05" fill="none" stroke-linejoin="round"/>
<g fill="#ff0000"><circle cx="43.60" cy="480.40" r="1.3"/><circle cx="50.00" cy="477.76" r="1.3"/><circle cx="56.40" cy="471.94" r="1.3"/><circle cx="62.79" cy="463.72" r="1.3"/><circle cx="69.19" cy="454.34" r="1.3"/><circle cx="75.59" cy="445.74" r="1.3"/><circle cx="81.99" cy="439.61" r="1.3"/><circle cx="88.39" cy="439.93" r="1.3"/><circle cx="94.78" cy="447.14" r="1.3"/><circle cx="101.18" cy="458.24" r="1.3"/><circle cx="107.58" cy="470.57" r="1.3"/><circle cx="113.98" cy="480.73" r="1.3"/><circle cx="120.38" cy="486.72" r="1.3"/><circle cx="126.77" cy="489.09" r="1.3"/><circle cx="133.17" cy="488.30" r="1.3"/><circle cx="139.57" cy="485.28" r="1.3"/><circle cx="145.97" cy="480.43" r="1.3"/><circle cx="152.37" cy="475.48" r="1.3"/><circle cx="158.76" cy="471.51" r="1.3"/><circle cx="165.16" cy="470.00" r="1.3"/><circle cx="171.56" cy="471.39" r="1.3"/><circle cx="177.96" cy="474.21" r="1.3"/><circle cx="184.36" cy="476.27" r="1.3"/><circle cx="190.75" cy="476.55" r="1.3"/><circle cx="197.15" cy="474.43" r="1.3"/><circle cx="203.55" cy="470.34" r="1.3"/><circle cx="209.95" cy="465.05" r="1.3"/><circle cx="216.35" cy="458.64" r="1.3"/><circle cx="222.74" cy="452.31" r="1.3"/><circle cx="229.14" cy="447.21" r="1.3"/><circle cx="235.54" cy="443.69" r="1.3"/><circle cx="241.94" cy="441.41" r="1.3"/><circle cx="248.34" cy="439.93" r="1.3"/><circle cx="254.73" cy="438.56" r="1.3"/></g><g fill="#000"><circle cx="45.73" cy="479.97" r="1.3"/><circle cx="52.13" cy="476.10" r="1.3"/><circle cx="58.53" cy="469.47" r="1.3"/><circle cx="64.93" cy="460.59" r="1.3"/><circle cx="71.32" cy="451.33" r="1.3"/><circle cx="77.72" cy="443.29" r="1.3"/><circle cx="84.12" cy="438.69" r="1.3"/><circle cx="90.52" cy="441.78" r="1.3"/><circle cx="96.92" cy="450.51" r="1.3"/><circle cx="103.31" cy="462.39" r="1.3"/><circle cx="109.71" cy="474.35" r="1.3"/><circle cx="116.11" cy="483.21" r="1.3"/><circle cx="122.51" cy="487.82" r="1.3"/><circle cx="128.91" cy="489.20" r="1.3"/><circle cx="135.30" cy="487.48" r="1.3"/><circle cx="141.70" cy="483.80" r="1.3"/><circle cx="148.10" cy="478.76" r="1.3"/><circle cx="154.50" cy="473.94" r="1.3"/><circle cx="160.90" cy="470.69" r="1.3"/><circle cx="167.30" cy="470.15" r="1.3"/><circle cx="173.69" cy="472.34" r="1.3"/><circle cx="180.09" cy="474.98" r="1.3"/><circle cx="186.49" cy="476.69" r="1.3"/><circle cx="192.89" cy="476.03" r="1.3"/><circle cx="199.29" cy="473.27" r="1.3"/><circle cx="205.68" cy="468.69" r="1.3"/><circle cx="212.08" cy="463.00" r="1.3"/><circle cx="218.48" cy="456.45" r="1.3"/><circle cx="224.88" cy="450.44" r="1.3"/><circle cx="231.28" cy="445.86" r="1.3"/><circle cx="237.67" cy="442.82" r="1.3"/><circle cx="244.07" cy="440.84" r="1.3"/><circle cx="250.47" cy="439.53" r="1.3"/><circle cx="256.87" cy="437.90" r="1.3"/></g>
<text class="tk" text-anchor="middle" x="62.30" y="510.30">0.012</text>
<text class="tk" text-anchor="middle" x="105.05" y="510.30">0.014</text>
<text class="tk" text-anchor="middle" x="147.80" y="510.30">0.016</text>
<text class="tk" text-anchor="middle" x="190.55" y="510.30">0.018</text>
<text class="tk" text-anchor="middle" x="233.30" y="510.30">0.02</text>
<text class="tk" text-anchor="end" x="38.6" y="449.00">1.576</text>
<text class="tk" text-anchor="end" x="38.6" y="473.70">1.575</text>
<text class="tk" text-anchor="end" x="38.6" y="498.60">1.574</text>
<text class="tt" text-anchor="middle" x="150.9" y="430.30">ρE</text>
</g>
<g>
<path d="M326.70 436.80H542.95M326.70 495.40H542.95" fill="none" stroke="#5c5c5c" stroke-width="1"/>
<path d="M327.95 495.80V480.75H328.58V495.80ZM330.08 495.80V480.75H330.71V495.80ZM332.21 495.80V480.75H332.84V495.80ZM334.35 495.80V480.75H334.97V495.80ZM336.48 495.80V480.75H337.10V495.80ZM338.61 495.80V480.75H339.23V495.80ZM340.74 495.80V480.75H341.37V495.80ZM342.87 495.80V480.75H343.50V495.80ZM345.00 495.80V480.75H345.63V495.80ZM347.13 495.80V480.75H347.76V495.80ZM349.26 495.80V480.75H349.89V495.80ZM351.40 495.80V480.75H352.02V495.80ZM353.53 495.80V480.75H354.15V495.80ZM355.66 495.80V480.75H356.28V495.80ZM357.79 495.80V480.75H358.42V495.80ZM359.92 495.80V480.75H360.55V495.80ZM362.05 495.80V480.75H362.68V495.80ZM364.18 495.80V480.75H364.81V495.80ZM366.31 495.80V480.75H366.94V495.80ZM368.45 495.80V480.75H369.07V495.80ZM370.58 495.80V480.75H371.20V495.80ZM372.71 495.80V480.75H373.33V495.80ZM374.84 495.80V480.75H375.46V495.80ZM376.97 495.80V480.75H377.60V495.80ZM379.10 495.80V480.75H379.73V495.80ZM381.23 495.80V480.75H381.86V495.80ZM383.36 495.80V480.75H383.99V495.80ZM385.49 495.80V480.75H386.12V495.80ZM387.63 495.80V480.75H388.25V495.80ZM389.76 495.80V480.75H390.38V495.80ZM391.89 495.80V480.75H392.51V495.80ZM394.02 495.80V480.75H394.65V495.80ZM396.15 495.80V480.75H396.78V495.80ZM398.28 495.80V480.75H398.91V495.80ZM400.41 495.80V480.75H401.04V495.80ZM402.54 495.80V480.75H403.17V495.80ZM404.68 495.80V480.75H405.30V495.80ZM406.81 495.80V480.75H407.43V495.80ZM408.94 495.80V480.75H409.56V495.80ZM411.07 495.80V480.75H411.70V495.80ZM413.20 495.80V480.75H413.83V495.80ZM415.33 495.80V480.75H415.96V495.80ZM417.46 495.80V480.75H418.09V495.80ZM419.59 495.80V480.75H420.22V495.80ZM421.72 495.80V480.75H422.35V495.80ZM423.86 495.80V480.75H424.48V495.80ZM425.99 495.80V480.75H426.61V495.80ZM428.12 495.80V480.75H428.74V495.80ZM430.25 495.80V480.75H430.88V495.80ZM432.38 495.80V480.75H433.01V495.80ZM434.51 495.80V480.75H435.14V495.80ZM436.64 495.80V480.75H437.27V495.80ZM438.77 495.80V480.75H439.40V495.80ZM440.91 495.80V480.75H441.53V495.80ZM443.04 495.80V480.75H443.66V495.80ZM445.17 495.80V480.75H445.79V495.80ZM447.30 495.80V480.75H447.93V495.80ZM449.43 495.80V480.75H450.06V495.80ZM451.56 495.80V480.75H452.19V495.80ZM453.69 495.80V480.75H454.32V495.80ZM455.82 495.80V480.75H456.45V495.80ZM457.95 495.80V480.75H458.58V495.80ZM460.09 495.80V480.75H460.71V495.80ZM462.22 495.80V480.75H462.84V495.80ZM464.35 495.80V480.75H464.97V495.80ZM466.48 495.80V480.75H467.11V495.80ZM468.61 495.80V480.75H469.24V495.80ZM470.74 495.80V480.75H471.37V495.80ZM472.87 495.80V480.75H473.50V495.80ZM475.00 495.80V480.75H475.63V495.80ZM477.14 495.80V480.75H477.76V495.80ZM479.27 495.80V480.75H479.89V495.80ZM481.40 495.80V480.75H482.02V495.80ZM483.53 495.80V480.75H484.16V495.80ZM485.66 495.80V480.75H486.29V495.80ZM487.79 495.80V480.75H488.42V495.80ZM489.92 495.80V480.75H490.55V495.80ZM492.05 495.80V480.75H492.68V495.80ZM494.19 495.80V480.75H494.81V495.80ZM496.32 495.80V480.75H496.94V495.80ZM498.45 495.80V480.75H499.07V495.80ZM500.58 495.80V480.75H501.20V495.80ZM502.71 495.80V480.75H503.34V495.80ZM504.84 495.80V480.75H505.47V495.80ZM506.97 495.80V480.75H507.60V495.80ZM509.10 495.80V480.75H509.73V495.80ZM511.23 495.80V480.75H511.86V495.80ZM513.37 495.80V480.75H513.99V495.80ZM515.50 495.80V480.75H516.12V495.80ZM517.63 495.80V480.75H518.25V495.80ZM519.76 495.80V480.75H520.39V495.80ZM521.89 495.80V480.75H522.52V495.80ZM524.02 495.80V480.75H524.65V495.80ZM526.15 495.80V480.75H526.78V495.80ZM528.28 495.80V480.75H528.91V495.80ZM530.42 495.80V480.75H531.04V495.80ZM532.55 495.80V480.75H533.17V495.80ZM534.68 495.80V480.75H535.30V495.80ZM536.81 495.80V480.75H537.44V495.80ZM538.94 495.80V466.10H539.57V495.80ZM541.07 495.80V466.10H541.70V495.80Z" fill="#3087cf"/>
<path d="M327.20 495.80V480.75H328.05V495.80ZM328.48 495.80V480.75H330.18V495.80ZM330.61 495.80V480.75H332.31V495.80ZM332.74 495.80V480.75H334.45V495.80ZM334.87 495.80V480.75H336.58V495.80ZM337.00 495.80V480.75H338.71V495.80ZM339.13 495.80V480.75H340.84V495.80ZM341.27 495.80V480.75H342.97V495.80ZM343.40 495.80V480.75H345.10V495.80ZM345.53 495.80V480.75H347.23V495.80ZM347.66 495.80V480.75H349.36V495.80ZM349.79 495.80V480.75H351.50V495.80ZM351.92 495.80V480.75H353.63V495.80ZM354.05 495.80V480.75H355.76V495.80ZM356.18 495.80V480.75H357.89V495.80ZM358.32 495.80V480.75H360.02V495.80ZM360.45 495.80V480.75H362.15V495.80ZM362.58 495.80V480.75H364.28V495.80ZM364.71 495.80V480.75H366.41V495.80ZM366.84 495.80V480.75H368.55V495.80ZM368.97 495.80V480.75H370.68V495.80ZM371.10 495.80V480.75H372.81V495.80ZM373.23 495.80V480.75H374.94V495.80ZM375.36 495.80V480.75H377.07V495.80ZM377.50 495.80V480.75H379.20V495.80ZM379.63 495.80V480.75H381.33V495.80ZM381.76 495.80V480.75H383.46V495.80ZM383.89 495.80V480.75H385.59V495.80ZM386.02 495.80V480.75H387.73V495.80ZM388.15 495.80V480.75H389.86V495.80ZM390.28 495.80V480.75H391.99V495.80ZM392.41 495.80V480.75H394.12V495.80ZM394.55 495.80V480.75H396.25V495.80ZM396.68 495.80V480.75H398.38V495.80ZM398.81 495.80V480.75H400.51V495.80ZM400.94 495.80V480.75H402.64V495.80ZM403.07 495.80V480.75H404.78V495.80ZM405.20 495.80V480.75H406.91V495.80ZM407.33 495.80V480.75H409.04V495.80ZM409.46 495.80V480.75H411.17V495.80ZM411.60 495.80V480.75H413.30V495.80ZM413.73 495.80V480.75H415.43V495.80ZM415.86 495.80V480.75H417.56V495.80ZM417.99 495.80V480.75H419.69V495.80ZM420.12 495.80V480.75H421.82V495.80ZM422.25 495.80V480.75H423.96V495.80ZM424.38 495.80V480.75H426.09V495.80ZM426.51 495.80V480.75H428.22V495.80ZM428.64 495.80V480.75H430.35V495.80ZM430.78 495.80V480.75H432.48V495.80ZM432.91 495.80V480.75H434.61V495.80ZM435.04 495.80V480.75H436.74V495.80ZM437.17 495.80V480.75H438.87V495.80ZM439.30 495.80V480.75H441.01V495.80ZM441.43 495.80V480.75H443.14V495.80ZM443.56 495.80V480.75H445.27V495.80ZM445.69 495.80V480.75H447.40V495.80ZM447.83 495.80V480.75H449.53V495.80ZM449.96 495.80V480.75H451.66V495.80ZM452.09 495.80V451.45H453.79V495.80ZM454.22 495.80V480.75H455.92V495.80ZM456.35 495.80V480.75H458.05V495.80ZM458.48 495.80V480.75H460.19V495.80ZM460.61 495.80V480.75H462.32V495.80ZM462.74 495.80V480.75H464.45V495.80ZM464.87 495.80V451.45H466.58V495.80ZM467.01 495.80V480.75H468.71V495.80ZM469.14 495.80V480.75H470.84V495.80ZM471.27 495.80V480.75H472.97V495.80ZM473.40 495.80V480.75H475.10V495.80ZM475.53 495.80V480.75H477.24V495.80ZM477.66 495.80V480.75H479.37V495.80ZM479.79 495.80V480.75H481.50V495.80ZM481.92 495.80V480.75H483.63V495.80ZM484.06 495.80V480.75H485.76V495.80ZM486.19 495.80V480.75H487.89V495.80ZM488.32 495.80V480.75H490.02V495.80ZM490.45 495.80V480.75H492.15V495.80ZM492.58 495.80V480.75H494.29V495.80ZM494.71 495.80V480.75H496.42V495.80ZM496.84 495.80V480.75H498.55V495.80ZM498.97 495.80V480.75H500.68V495.80ZM501.10 495.80V480.75H502.81V495.80ZM503.24 495.80V480.75H504.94V495.80ZM505.37 495.80V480.75H507.07V495.80ZM507.50 495.80V480.75H509.20V495.80ZM509.63 495.80V480.75H511.33V495.80ZM511.76 495.80V480.75H513.47V495.80ZM513.89 495.80V480.75H515.60V495.80ZM516.02 495.80V480.75H517.73V495.80ZM518.15 495.80V480.75H519.86V495.80ZM520.29 495.80V480.75H521.99V495.80ZM522.42 495.80V480.75H524.12V495.80ZM524.55 495.80V480.75H526.25V495.80ZM526.68 495.80V466.10H528.38V495.80ZM528.81 495.80V480.75H530.52V495.80ZM530.94 495.80V480.75H532.65V495.80ZM533.07 495.80V480.75H534.78V495.80ZM535.20 495.80V480.75H536.91V495.80ZM537.34 495.80V466.10H539.04V495.80ZM539.47 495.80V466.10H541.17V495.80ZM541.60 495.80V466.10H542.45V495.80Z" fill="#0c6fc0"/>
<path d="M327.20 436.80V495.40M542.45 436.80V495.40" stroke="#5c5c5c" stroke-width="1" fill="none"/>
<path d="M327.20 480.75V495.90M542.45 466.10V495.90M326.70 495.40H542.95" stroke="#17548f" stroke-width="1" fill="none"/>
<path d="M346.30 495.40v-2.2M346.30 436.80v2.2M389.05 495.40v-2.2M389.05 436.80v2.2M431.80 495.40v-2.2M431.80 436.80v2.2M474.55 495.40v-2.2M474.55 436.80v2.2M517.30 495.40v-2.2M517.30 436.80v2.2M327.20 480.75h2.2M542.45 480.75h-2.2M327.20 466.10h2.2M542.45 466.10h-2.2M327.20 451.45h2.2M542.45 451.45h-2.2" stroke="#5c5c5c" stroke-width="0.9" fill="none"/>
<text class="tk" text-anchor="middle" x="345.90" y="510.30">0.012</text>
<text class="tk" text-anchor="middle" x="388.65" y="510.30">0.014</text>
<text class="tk" text-anchor="middle" x="431.40" y="510.30">0.016</text>
<text class="tk" text-anchor="middle" x="474.15" y="510.30">0.018</text>
<text class="tk" text-anchor="middle" x="516.90" y="510.30">0.02</text>
<text class="tk yl" text-anchor="end" x="322.6" y="484.45">POD</text>
<text class="tk yl" text-anchor="end" x="322.6" y="469.80">DMD</text>
<text class="tk yl" text-anchor="end" x="322.6" y="455.15">RDMD</text>
</g>
<text class="tk" y="432.6"><tspan x="44.0" y="434.5" font-size="14.6">×</tspan><tspan x="52.3" y="432.6">10</tspan><tspan x="64.2" dy="-4.4" font-size="8.4">5</tspan></text>
<text class="xl" text-anchor="middle" x="151.2" y="526.0">t(s)</text>
<text class="xl" text-anchor="middle" x="434.9" y="526.0">t(s)</text>
</svg>
</body></html>
